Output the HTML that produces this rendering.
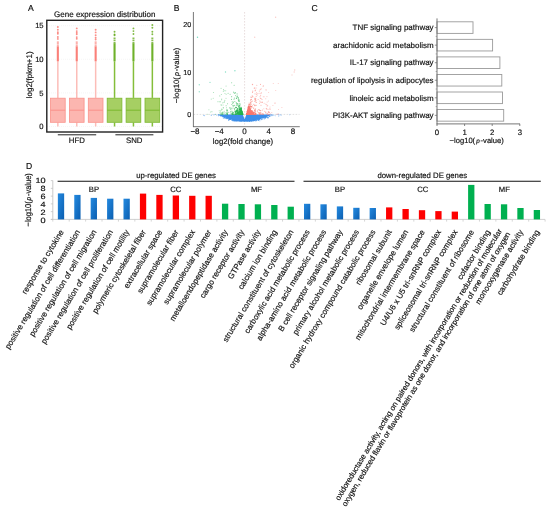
<!DOCTYPE html>
<html lang="en"><head><meta charset="utf-8"><title>Figure</title>
<style>html,body{margin:0;padding:0;background:#fff}svg{display:block}text{font-family:"Liberation Sans", Arial, sans-serif;fill:#111;stroke:#111;stroke-width:0.17px;text-rendering:geometricPrecision}</style></head><body>
<svg width="550" height="510" viewBox="0 0 550 510">
<defs>
<linearGradient id="gb" x1="0" y1="0" x2="1" y2="1"><stop offset="0" stop-color="#248ae0"/><stop offset="1" stop-color="#0b5eb0"/></linearGradient>
</defs>
<rect width="550" height="510" fill="#fff"/>
<g id="panelA">
<text x="28" y="11.2" font-size="8.6">A</text>
<text x="104.8" y="17.25" font-size="8" text-anchor="middle">Gene expression distribution</text>
<line x1="47" x2="162.5" y1="126.5" y2="126.5" stroke="#ececec" stroke-width="0.5" stroke-dasharray="1 1"/>
<text x="43.6" y="129.2" font-size="7.6" text-anchor="end">0</text>
<line x1="47" x2="162.5" y1="92.9" y2="92.9" stroke="#ececec" stroke-width="0.5" stroke-dasharray="1 1"/>
<text x="43.6" y="95.6" font-size="7.6" text-anchor="end">5</text>
<line x1="47" x2="162.5" y1="59.3" y2="59.3" stroke="#ececec" stroke-width="0.5" stroke-dasharray="1 1"/>
<text x="43.6" y="62.0" font-size="7.6" text-anchor="end">10</text>
<line x1="47" x2="162.5" y1="25.7" y2="25.7" stroke="#ececec" stroke-width="0.5" stroke-dasharray="1 1"/>
<text x="43.6" y="28.4" font-size="7.6" text-anchor="end">15</text>
<text transform="translate(32.3 74.8) rotate(-90)" font-size="8" text-anchor="middle">log2(fpkm+1)</text>
<line x1="57.85" x2="57.85" y1="61.3" y2="97.9" stroke="#fcbdb8" stroke-width="1.5"/>
<line x1="57.85" x2="57.85" y1="122.5" y2="126.5" stroke="#fcbdb8" stroke-width="1.5"/>
<rect x="50.50" y="98.2" width="14.7" height="24.1" fill="#fcb6b0" stroke="#f9928a" stroke-width="0.8"/>
<line x1="50.50" x2="65.20" y1="110.2" y2="110.2" stroke="#f9928a" stroke-width="1"/>
<line x1="57.85" x2="57.85" y1="61.3" y2="46.5" stroke="#f96a61" stroke-width="2.1" stroke-opacity="0.85"/>
<line x1="57.85" x2="57.85" y1="46.5" y2="41.2" stroke="#f96a61" stroke-width="2.0" stroke-opacity="0.7" stroke-dasharray="1.3 0.6"/>
<circle cx="57.85" cy="38.9" r="0.95" fill="#f96a61" fill-opacity="0.75"/>
<circle cx="57.85" cy="37.0" r="0.95" fill="#f96a61" fill-opacity="0.75"/>
<circle cx="57.85" cy="33.8" r="0.95" fill="#f96a61" fill-opacity="0.75"/>
<circle cx="57.85" cy="32.2" r="0.95" fill="#f96a61" fill-opacity="0.75"/>
<circle cx="57.85" cy="29.7" r="0.95" fill="#f96a61" fill-opacity="0.75"/>
<circle cx="57.85" cy="27.0" r="0.95" fill="#f96a61" fill-opacity="0.75"/>
<line x1="76.75" x2="76.75" y1="61.3" y2="97.9" stroke="#fcbdb8" stroke-width="1.5"/>
<line x1="76.75" x2="76.75" y1="122.5" y2="126.5" stroke="#fcbdb8" stroke-width="1.5"/>
<rect x="69.40" y="98.2" width="14.7" height="24.1" fill="#fcb6b0" stroke="#f9928a" stroke-width="0.8"/>
<line x1="69.40" x2="84.10" y1="110.2" y2="110.2" stroke="#f9928a" stroke-width="1"/>
<line x1="76.75" x2="76.75" y1="61.3" y2="46.5" stroke="#f96a61" stroke-width="2.1" stroke-opacity="0.85"/>
<line x1="76.75" x2="76.75" y1="46.5" y2="41.2" stroke="#f96a61" stroke-width="2.0" stroke-opacity="0.7" stroke-dasharray="1.3 0.6"/>
<circle cx="76.75" cy="38.7" r="0.95" fill="#f96a61" fill-opacity="0.75"/>
<circle cx="76.75" cy="37.1" r="0.95" fill="#f96a61" fill-opacity="0.75"/>
<circle cx="76.75" cy="34.3" r="0.95" fill="#f96a61" fill-opacity="0.75"/>
<circle cx="76.75" cy="32.8" r="0.95" fill="#f96a61" fill-opacity="0.75"/>
<circle cx="76.75" cy="31.1" r="0.95" fill="#f96a61" fill-opacity="0.75"/>
<circle cx="76.75" cy="28.4" r="0.95" fill="#f96a61" fill-opacity="0.75"/>
<line x1="95.65" x2="95.65" y1="61.3" y2="97.9" stroke="#fcbdb8" stroke-width="1.5"/>
<line x1="95.65" x2="95.65" y1="122.5" y2="126.5" stroke="#fcbdb8" stroke-width="1.5"/>
<rect x="88.30" y="98.2" width="14.7" height="24.1" fill="#fcb6b0" stroke="#f9928a" stroke-width="0.8"/>
<line x1="88.30" x2="103.00" y1="110.2" y2="110.2" stroke="#f9928a" stroke-width="1"/>
<line x1="95.65" x2="95.65" y1="61.3" y2="46.5" stroke="#f96a61" stroke-width="2.1" stroke-opacity="0.85"/>
<line x1="95.65" x2="95.65" y1="46.5" y2="41.2" stroke="#f96a61" stroke-width="2.0" stroke-opacity="0.7" stroke-dasharray="1.3 0.6"/>
<circle cx="95.65" cy="39.5" r="0.95" fill="#f96a61" fill-opacity="0.75"/>
<circle cx="95.65" cy="37.8" r="0.95" fill="#f96a61" fill-opacity="0.75"/>
<circle cx="95.65" cy="35.2" r="0.95" fill="#f96a61" fill-opacity="0.75"/>
<circle cx="95.65" cy="32.4" r="0.95" fill="#f96a61" fill-opacity="0.75"/>
<circle cx="95.65" cy="29.7" r="0.95" fill="#f96a61" fill-opacity="0.75"/>
<line x1="114.55" x2="114.55" y1="61.3" y2="97.9" stroke="#84be3a" stroke-width="1.5"/>
<line x1="114.55" x2="114.55" y1="122.5" y2="126.5" stroke="#84be3a" stroke-width="1.5"/>
<rect x="107.20" y="98.2" width="14.7" height="24.1" fill="#a6cf63" stroke="#7cb82f" stroke-width="0.8"/>
<line x1="107.20" x2="121.90" y1="110.2" y2="110.2" stroke="#7cb82f" stroke-width="1"/>
<line x1="114.55" x2="114.55" y1="61.3" y2="43.2" stroke="#55a305" stroke-width="2.1" stroke-opacity="0.85"/>
<line x1="114.55" x2="114.55" y1="43.2" y2="37.1" stroke="#55a305" stroke-width="2.0" stroke-opacity="0.7" stroke-dasharray="1.3 0.6"/>
<circle cx="114.55" cy="35.3" r="0.95" fill="#55a305" fill-opacity="0.75"/>
<circle cx="114.55" cy="34.4" r="0.95" fill="#55a305" fill-opacity="0.75"/>
<circle cx="114.55" cy="31.7" r="0.95" fill="#55a305" fill-opacity="0.75"/>
<line x1="133.45" x2="133.45" y1="61.3" y2="97.9" stroke="#84be3a" stroke-width="1.5"/>
<line x1="133.45" x2="133.45" y1="122.5" y2="126.5" stroke="#84be3a" stroke-width="1.5"/>
<rect x="126.10" y="98.2" width="14.7" height="24.1" fill="#a6cf63" stroke="#7cb82f" stroke-width="0.8"/>
<line x1="126.10" x2="140.80" y1="110.2" y2="110.2" stroke="#7cb82f" stroke-width="1"/>
<line x1="133.45" x2="133.45" y1="61.3" y2="43.2" stroke="#55a305" stroke-width="2.1" stroke-opacity="0.85"/>
<line x1="133.45" x2="133.45" y1="43.2" y2="37.1" stroke="#55a305" stroke-width="2.0" stroke-opacity="0.7" stroke-dasharray="1.3 0.6"/>
<circle cx="133.45" cy="34.0" r="0.95" fill="#55a305" fill-opacity="0.75"/>
<circle cx="133.45" cy="31.1" r="0.95" fill="#55a305" fill-opacity="0.75"/>
<circle cx="133.45" cy="28.4" r="0.95" fill="#55a305" fill-opacity="0.75"/>
<line x1="152.35" x2="152.35" y1="61.3" y2="97.9" stroke="#84be3a" stroke-width="1.5"/>
<line x1="152.35" x2="152.35" y1="122.5" y2="126.5" stroke="#84be3a" stroke-width="1.5"/>
<rect x="145.00" y="98.2" width="14.7" height="24.1" fill="#a6cf63" stroke="#7cb82f" stroke-width="0.8"/>
<line x1="145.00" x2="159.70" y1="110.2" y2="110.2" stroke="#7cb82f" stroke-width="1"/>
<line x1="152.35" x2="152.35" y1="61.3" y2="43.2" stroke="#55a305" stroke-width="2.1" stroke-opacity="0.85"/>
<line x1="152.35" x2="152.35" y1="43.2" y2="37.1" stroke="#55a305" stroke-width="2.0" stroke-opacity="0.7" stroke-dasharray="1.3 0.6"/>
<circle cx="152.35" cy="34.2" r="0.95" fill="#55a305" fill-opacity="0.75"/>
<circle cx="152.35" cy="31.7" r="0.95" fill="#55a305" fill-opacity="0.75"/>
<circle cx="152.35" cy="27.7" r="0.95" fill="#55a305" fill-opacity="0.75"/>
<circle cx="152.35" cy="25.0" r="0.95" fill="#55a305" fill-opacity="0.75"/>
<rect x="46.8" y="20.3" width="115.8" height="111.7" fill="none" stroke="#222" stroke-width="1.4"/>
<line x1="57.8" x2="96.2" y1="134.8" y2="134.8" stroke="#222" stroke-width="1"/>
<line x1="115.4" x2="153.4" y1="134.8" y2="134.8" stroke="#222" stroke-width="1"/>
<text x="76.8" y="142.6" font-size="7.8" text-anchor="middle">HFD</text>
<text x="134.2" y="142.6" font-size="7.8" text-anchor="middle">SND</text>
</g>
<g id="panelB">
<text x="173.8" y="11.2" font-size="8.6">B</text>
<line x1="193.6" x2="299.5" y1="114.4" y2="114.4" stroke="#c9c9c9" stroke-width="0.6" stroke-dasharray="1.6 1.4"/>
<line x1="244.6" x2="244.6" y1="12" y2="126.5" stroke="#d8c4c4" stroke-width="0.6" stroke-dasharray="1.6 1.4"/>
<path d="M218.59 114.40 L242.78 114.40 L244.60 119.35 L246.41 114.40 L271.82 114.40 L271.82 114.77 L270.62 115.33 L269.40 115.86 L268.19 116.36 L266.99 116.84 L265.77 117.29 L264.56 117.72 L263.36 118.12 L262.14 118.50 L260.94 118.85 L259.73 119.18 L258.51 119.48 L257.31 119.76 L256.09 120.01 L254.88 120.24 L253.68 120.44 L252.47 120.62 L251.25 120.77 L250.04 120.89 L248.84 121.00 L247.62 121.07 L246.41 121.12 L245.20 121.15 L244.00 121.15 L242.78 121.12 L241.57 121.06 L240.37 120.98 L239.16 120.87 L237.94 120.73 L236.73 120.57 L235.53 120.37 L234.31 120.15 L233.10 119.91 L231.89 119.63 L230.69 119.33 L229.47 118.99 L228.26 118.64 L227.06 118.25 L225.84 117.84 L224.63 117.39 L223.42 116.93 L222.22 116.43 L221.00 115.91 L219.79 115.35 L218.59 114.77 Z" fill="#3c8eea"/>
<circle cx="278.97" cy="115.07" r="0.55" fill="#3c8eea" fill-opacity="0.40"/>
<circle cx="242.10" cy="120.70" r="0.55" fill="#3c8eea" fill-opacity="0.70"/>
<circle cx="256.11" cy="120.11" r="0.55" fill="#3c8eea" fill-opacity="0.70"/>
<circle cx="249.23" cy="120.70" r="0.55" fill="#3c8eea" fill-opacity="0.70"/>
<circle cx="222.02" cy="116.54" r="0.55" fill="#3c8eea" fill-opacity="0.70"/>
<circle cx="228.70" cy="119.12" r="0.55" fill="#3c8eea" fill-opacity="0.70"/>
<circle cx="250.47" cy="120.61" r="0.55" fill="#3c8eea" fill-opacity="0.70"/>
<circle cx="252.09" cy="120.70" r="0.55" fill="#3c8eea" fill-opacity="0.70"/>
<circle cx="230.44" cy="119.21" r="0.55" fill="#3c8eea" fill-opacity="0.70"/>
<circle cx="227.47" cy="118.47" r="0.55" fill="#3c8eea" fill-opacity="0.70"/>
<circle cx="234.67" cy="120.70" r="0.55" fill="#3c8eea" fill-opacity="0.70"/>
<circle cx="240.32" cy="120.70" r="0.55" fill="#3c8eea" fill-opacity="0.70"/>
<circle cx="224.83" cy="117.54" r="0.55" fill="#3c8eea" fill-opacity="0.70"/>
<circle cx="265.37" cy="117.97" r="0.55" fill="#3c8eea" fill-opacity="0.70"/>
<circle cx="232.60" cy="120.70" r="0.55" fill="#3c8eea" fill-opacity="0.70"/>
<circle cx="258.52" cy="119.68" r="0.55" fill="#3c8eea" fill-opacity="0.70"/>
<circle cx="245.07" cy="120.70" r="0.55" fill="#3c8eea" fill-opacity="0.70"/>
<circle cx="239.48" cy="120.57" r="0.55" fill="#3c8eea" fill-opacity="0.70"/>
<circle cx="229.43" cy="119.78" r="0.55" fill="#3c8eea" fill-opacity="0.70"/>
<circle cx="211.38" cy="115.39" r="0.55" fill="#3c8eea" fill-opacity="0.40"/>
<circle cx="233.69" cy="120.78" r="0.55" fill="#3c8eea" fill-opacity="0.70"/>
<circle cx="224.78" cy="117.67" r="0.55" fill="#3c8eea" fill-opacity="0.70"/>
<circle cx="211.16" cy="115.02" r="0.55" fill="#3c8eea" fill-opacity="0.40"/>
<circle cx="263.95" cy="117.88" r="0.55" fill="#3c8eea" fill-opacity="0.70"/>
<circle cx="241.30" cy="120.70" r="0.55" fill="#3c8eea" fill-opacity="0.70"/>
<circle cx="236.74" cy="120.70" r="0.55" fill="#3c8eea" fill-opacity="0.70"/>
<circle cx="278.29" cy="114.60" r="0.55" fill="#3c8eea" fill-opacity="0.40"/>
<circle cx="240.74" cy="120.70" r="0.55" fill="#3c8eea" fill-opacity="0.70"/>
<circle cx="242.70" cy="120.70" r="0.55" fill="#3c8eea" fill-opacity="0.70"/>
<circle cx="233.91" cy="119.83" r="0.55" fill="#3c8eea" fill-opacity="0.70"/>
<circle cx="249.29" cy="120.79" r="0.55" fill="#3c8eea" fill-opacity="0.70"/>
<circle cx="245.69" cy="120.70" r="0.55" fill="#3c8eea" fill-opacity="0.70"/>
<circle cx="244.87" cy="120.70" r="0.55" fill="#3c8eea" fill-opacity="0.70"/>
<circle cx="249.74" cy="120.70" r="0.55" fill="#3c8eea" fill-opacity="0.70"/>
<circle cx="222.84" cy="116.65" r="0.55" fill="#3c8eea" fill-opacity="0.70"/>
<circle cx="269.56" cy="116.40" r="0.55" fill="#3c8eea" fill-opacity="0.70"/>
<circle cx="254.23" cy="120.47" r="0.55" fill="#3c8eea" fill-opacity="0.70"/>
<circle cx="229.86" cy="119.12" r="0.55" fill="#3c8eea" fill-opacity="0.70"/>
<circle cx="278.69" cy="116.14" r="0.55" fill="#3c8eea" fill-opacity="0.40"/>
<circle cx="251.19" cy="120.70" r="0.55" fill="#3c8eea" fill-opacity="0.70"/>
<circle cx="246.10" cy="120.70" r="0.55" fill="#3c8eea" fill-opacity="0.70"/>
<circle cx="220.50" cy="115.43" r="0.55" fill="#3c8eea" fill-opacity="0.70"/>
<circle cx="244.47" cy="120.70" r="0.55" fill="#3c8eea" fill-opacity="0.70"/>
<circle cx="229.39" cy="118.98" r="0.55" fill="#3c8eea" fill-opacity="0.70"/>
<circle cx="203.55" cy="115.49" r="0.55" fill="#3c8eea" fill-opacity="0.40"/>
<circle cx="236.62" cy="120.70" r="0.55" fill="#3c8eea" fill-opacity="0.70"/>
<circle cx="224.45" cy="117.76" r="0.55" fill="#3c8eea" fill-opacity="0.70"/>
<circle cx="281.29" cy="115.21" r="0.55" fill="#3c8eea" fill-opacity="0.40"/>
<circle cx="251.52" cy="120.70" r="0.55" fill="#3c8eea" fill-opacity="0.70"/>
<circle cx="249.97" cy="120.70" r="0.55" fill="#3c8eea" fill-opacity="0.70"/>
<circle cx="237.77" cy="120.57" r="0.55" fill="#3c8eea" fill-opacity="0.70"/>
<circle cx="240.27" cy="120.70" r="0.55" fill="#3c8eea" fill-opacity="0.70"/>
<circle cx="255.93" cy="119.91" r="0.55" fill="#3c8eea" fill-opacity="0.70"/>
<circle cx="253.26" cy="120.75" r="0.55" fill="#3c8eea" fill-opacity="0.70"/>
<circle cx="244.97" cy="120.70" r="0.55" fill="#3c8eea" fill-opacity="0.70"/>
<circle cx="249.48" cy="120.70" r="0.55" fill="#3c8eea" fill-opacity="0.70"/>
<circle cx="241.90" cy="120.70" r="0.55" fill="#3c8eea" fill-opacity="0.70"/>
<circle cx="262.24" cy="118.88" r="0.55" fill="#3c8eea" fill-opacity="0.70"/>
<circle cx="252.84" cy="120.69" r="0.55" fill="#3c8eea" fill-opacity="0.70"/>
<circle cx="234.68" cy="120.47" r="0.55" fill="#3c8eea" fill-opacity="0.70"/>
<circle cx="269.89" cy="116.35" r="0.55" fill="#3c8eea" fill-opacity="0.70"/>
<circle cx="264.91" cy="117.29" r="0.55" fill="#3c8eea" fill-opacity="0.70"/>
<circle cx="236.95" cy="120.28" r="0.55" fill="#3c8eea" fill-opacity="0.70"/>
<circle cx="257.91" cy="119.70" r="0.55" fill="#3c8eea" fill-opacity="0.70"/>
<circle cx="241.44" cy="120.70" r="0.55" fill="#3c8eea" fill-opacity="0.70"/>
<circle cx="246.67" cy="120.70" r="0.55" fill="#3c8eea" fill-opacity="0.70"/>
<circle cx="265.80" cy="117.22" r="0.55" fill="#3c8eea" fill-opacity="0.70"/>
<circle cx="258.34" cy="119.95" r="0.55" fill="#3c8eea" fill-opacity="0.70"/>
<circle cx="266.52" cy="116.83" r="0.55" fill="#3c8eea" fill-opacity="0.70"/>
<circle cx="280.48" cy="114.78" r="0.55" fill="#3c8eea" fill-opacity="0.40"/>
<circle cx="239.92" cy="120.70" r="0.55" fill="#3c8eea" fill-opacity="0.70"/>
<circle cx="237.26" cy="120.64" r="0.55" fill="#3c8eea" fill-opacity="0.70"/>
<circle cx="247.68" cy="120.70" r="0.55" fill="#3c8eea" fill-opacity="0.70"/>
<circle cx="247.55" cy="120.70" r="0.55" fill="#3c8eea" fill-opacity="0.70"/>
<circle cx="250.19" cy="120.70" r="0.55" fill="#3c8eea" fill-opacity="0.70"/>
<circle cx="279.96" cy="114.70" r="0.55" fill="#3c8eea" fill-opacity="0.40"/>
<circle cx="256.17" cy="120.70" r="0.55" fill="#3c8eea" fill-opacity="0.70"/>
<circle cx="243.77" cy="120.70" r="0.55" fill="#3c8eea" fill-opacity="0.70"/>
<circle cx="227.69" cy="118.19" r="0.55" fill="#3c8eea" fill-opacity="0.70"/>
<circle cx="248.85" cy="120.68" r="0.55" fill="#3c8eea" fill-opacity="0.70"/>
<circle cx="242.02" cy="120.70" r="0.55" fill="#3c8eea" fill-opacity="0.70"/>
<circle cx="228.54" cy="120.18" r="0.55" fill="#3c8eea" fill-opacity="0.70"/>
<circle cx="204.24" cy="115.26" r="0.55" fill="#3c8eea" fill-opacity="0.40"/>
<circle cx="289.67" cy="114.70" r="0.55" fill="#3c8eea" fill-opacity="0.40"/>
<circle cx="236.15" cy="120.54" r="0.55" fill="#3c8eea" fill-opacity="0.70"/>
<circle cx="246.34" cy="120.70" r="0.55" fill="#3c8eea" fill-opacity="0.70"/>
<circle cx="251.78" cy="120.70" r="0.55" fill="#3c8eea" fill-opacity="0.70"/>
<circle cx="272.77" cy="115.61" r="0.55" fill="#3c8eea" fill-opacity="0.40"/>
<circle cx="218.41" cy="114.70" r="0.55" fill="#3c8eea" fill-opacity="0.70"/>
<circle cx="246.94" cy="120.70" r="0.55" fill="#3c8eea" fill-opacity="0.70"/>
<circle cx="223.39" cy="118.00" r="0.55" fill="#3c8eea" fill-opacity="0.70"/>
<circle cx="250.69" cy="120.70" r="0.55" fill="#3c8eea" fill-opacity="0.70"/>
<circle cx="233.33" cy="119.67" r="0.55" fill="#3c8eea" fill-opacity="0.70"/>
<circle cx="248.57" cy="120.70" r="0.55" fill="#3c8eea" fill-opacity="0.70"/>
<circle cx="259.81" cy="120.77" r="0.55" fill="#3c8eea" fill-opacity="0.70"/>
<circle cx="230.01" cy="119.27" r="0.55" fill="#3c8eea" fill-opacity="0.70"/>
<circle cx="272.14" cy="115.03" r="0.55" fill="#3c8eea" fill-opacity="0.70"/>
<circle cx="249.16" cy="120.70" r="0.55" fill="#3c8eea" fill-opacity="0.70"/>
<circle cx="267.51" cy="117.65" r="0.55" fill="#3c8eea" fill-opacity="0.70"/>
<circle cx="248.15" cy="120.70" r="0.55" fill="#3c8eea" fill-opacity="0.70"/>
<circle cx="268.12" cy="117.96" r="0.55" fill="#3c8eea" fill-opacity="0.70"/>
<circle cx="235.32" cy="120.59" r="0.55" fill="#3c8eea" fill-opacity="0.70"/>
<circle cx="235.43" cy="120.13" r="0.55" fill="#3c8eea" fill-opacity="0.70"/>
<circle cx="248.91" cy="120.70" r="0.55" fill="#3c8eea" fill-opacity="0.70"/>
<circle cx="226.67" cy="118.52" r="0.55" fill="#3c8eea" fill-opacity="0.70"/>
<circle cx="236.76" cy="120.70" r="0.55" fill="#3c8eea" fill-opacity="0.70"/>
<circle cx="220.11" cy="115.29" r="0.55" fill="#3c8eea" fill-opacity="0.70"/>
<circle cx="258.01" cy="119.41" r="0.55" fill="#3c8eea" fill-opacity="0.70"/>
<circle cx="257.58" cy="119.86" r="0.55" fill="#3c8eea" fill-opacity="0.70"/>
<circle cx="237.33" cy="120.66" r="0.55" fill="#3c8eea" fill-opacity="0.70"/>
<circle cx="249.29" cy="120.70" r="0.55" fill="#3c8eea" fill-opacity="0.70"/>
<circle cx="235.51" cy="120.70" r="0.55" fill="#3c8eea" fill-opacity="0.70"/>
<circle cx="250.84" cy="120.70" r="0.55" fill="#3c8eea" fill-opacity="0.70"/>
<circle cx="233.87" cy="120.51" r="0.55" fill="#3c8eea" fill-opacity="0.70"/>
<circle cx="234.01" cy="120.67" r="0.55" fill="#3c8eea" fill-opacity="0.70"/>
<circle cx="240.21" cy="120.70" r="0.55" fill="#3c8eea" fill-opacity="0.70"/>
<circle cx="246.89" cy="120.78" r="0.55" fill="#3c8eea" fill-opacity="0.70"/>
<circle cx="246.07" cy="120.70" r="0.55" fill="#3c8eea" fill-opacity="0.70"/>
<circle cx="233.96" cy="120.70" r="0.55" fill="#3c8eea" fill-opacity="0.70"/>
<circle cx="249.44" cy="120.70" r="0.55" fill="#3c8eea" fill-opacity="0.70"/>
<circle cx="239.00" cy="120.70" r="0.55" fill="#3c8eea" fill-opacity="0.70"/>
<circle cx="241.94" cy="120.70" r="0.55" fill="#3c8eea" fill-opacity="0.70"/>
<circle cx="236.20" cy="120.68" r="0.55" fill="#3c8eea" fill-opacity="0.70"/>
<circle cx="239.53" cy="120.78" r="0.55" fill="#3c8eea" fill-opacity="0.70"/>
<circle cx="275.38" cy="115.76" r="0.55" fill="#3c8eea" fill-opacity="0.40"/>
<circle cx="243.47" cy="120.70" r="0.55" fill="#3c8eea" fill-opacity="0.70"/>
<circle cx="204.62" cy="115.77" r="0.55" fill="#3c8eea" fill-opacity="0.40"/>
<circle cx="253.32" cy="120.70" r="0.55" fill="#3c8eea" fill-opacity="0.70"/>
<circle cx="243.84" cy="120.70" r="0.55" fill="#3c8eea" fill-opacity="0.70"/>
<circle cx="225.96" cy="118.39" r="0.55" fill="#3c8eea" fill-opacity="0.70"/>
<circle cx="240.30" cy="120.70" r="0.55" fill="#3c8eea" fill-opacity="0.70"/>
<circle cx="234.49" cy="120.70" r="0.55" fill="#3c8eea" fill-opacity="0.70"/>
<circle cx="214.25" cy="114.60" r="0.55" fill="#3c8eea" fill-opacity="0.40"/>
<circle cx="267.80" cy="117.56" r="0.55" fill="#3c8eea" fill-opacity="0.70"/>
<circle cx="232.47" cy="119.67" r="0.55" fill="#3c8eea" fill-opacity="0.70"/>
<circle cx="251.61" cy="120.66" r="0.55" fill="#3c8eea" fill-opacity="0.70"/>
<circle cx="247.11" cy="120.76" r="0.55" fill="#3c8eea" fill-opacity="0.70"/>
<circle cx="251.66" cy="120.70" r="0.55" fill="#3c8eea" fill-opacity="0.70"/>
<circle cx="216.81" cy="114.97" r="0.55" fill="#3c8eea" fill-opacity="0.70"/>
<circle cx="238.26" cy="120.66" r="0.55" fill="#3c8eea" fill-opacity="0.70"/>
<circle cx="218.53" cy="115.77" r="0.55" fill="#3c8eea" fill-opacity="0.70"/>
<circle cx="274.00" cy="115.19" r="0.55" fill="#3c8eea" fill-opacity="0.40"/>
<circle cx="242.01" cy="120.70" r="0.55" fill="#3c8eea" fill-opacity="0.70"/>
<circle cx="239.22" cy="120.70" r="0.55" fill="#3c8eea" fill-opacity="0.70"/>
<circle cx="249.00" cy="120.70" r="0.55" fill="#3c8eea" fill-opacity="0.70"/>
<circle cx="235.24" cy="120.70" r="0.55" fill="#3c8eea" fill-opacity="0.70"/>
<circle cx="253.72" cy="120.36" r="0.55" fill="#3c8eea" fill-opacity="0.70"/>
<circle cx="254.75" cy="120.43" r="0.55" fill="#3c8eea" fill-opacity="0.70"/>
<circle cx="271.00" cy="115.78" r="0.55" fill="#3c8eea" fill-opacity="0.70"/>
<circle cx="247.42" cy="120.70" r="0.55" fill="#3c8eea" fill-opacity="0.70"/>
<circle cx="245.87" cy="120.70" r="0.55" fill="#3c8eea" fill-opacity="0.70"/>
<circle cx="266.73" cy="116.87" r="0.55" fill="#3c8eea" fill-opacity="0.70"/>
<circle cx="244.09" cy="120.70" r="0.55" fill="#3c8eea" fill-opacity="0.70"/>
<circle cx="241.61" cy="120.70" r="0.55" fill="#3c8eea" fill-opacity="0.70"/>
<circle cx="243.09" cy="120.80" r="0.55" fill="#3c8eea" fill-opacity="0.70"/>
<circle cx="249.73" cy="120.68" r="0.55" fill="#3c8eea" fill-opacity="0.70"/>
<circle cx="230.43" cy="119.46" r="0.55" fill="#3c8eea" fill-opacity="0.70"/>
<circle cx="258.42" cy="120.37" r="0.55" fill="#3c8eea" fill-opacity="0.70"/>
<circle cx="226.87" cy="117.86" r="0.55" fill="#3c8eea" fill-opacity="0.70"/>
<circle cx="254.91" cy="120.76" r="0.55" fill="#3c8eea" fill-opacity="0.70"/>
<circle cx="233.12" cy="119.66" r="0.55" fill="#3c8eea" fill-opacity="0.70"/>
<circle cx="237.12" cy="120.70" r="0.55" fill="#3c8eea" fill-opacity="0.70"/>
<circle cx="254.40" cy="120.24" r="0.55" fill="#3c8eea" fill-opacity="0.70"/>
<circle cx="247.78" cy="120.70" r="0.55" fill="#3c8eea" fill-opacity="0.70"/>
<circle cx="234.87" cy="120.01" r="0.55" fill="#3c8eea" fill-opacity="0.70"/>
<circle cx="237.41" cy="120.49" r="0.55" fill="#3c8eea" fill-opacity="0.70"/>
<circle cx="239.31" cy="120.70" r="0.55" fill="#3c8eea" fill-opacity="0.70"/>
<circle cx="229.44" cy="119.16" r="0.55" fill="#3c8eea" fill-opacity="0.70"/>
<circle cx="264.11" cy="118.07" r="0.55" fill="#3c8eea" fill-opacity="0.70"/>
<circle cx="238.23" cy="120.70" r="0.55" fill="#3c8eea" fill-opacity="0.70"/>
<circle cx="260.71" cy="118.59" r="0.55" fill="#3c8eea" fill-opacity="0.70"/>
<circle cx="253.32" cy="120.28" r="0.55" fill="#3c8eea" fill-opacity="0.70"/>
<circle cx="249.56" cy="120.79" r="0.55" fill="#3c8eea" fill-opacity="0.70"/>
<circle cx="259.58" cy="119.31" r="0.55" fill="#3c8eea" fill-opacity="0.70"/>
<circle cx="273.43" cy="114.80" r="0.55" fill="#3c8eea" fill-opacity="0.40"/>
<circle cx="265.30" cy="117.43" r="0.55" fill="#3c8eea" fill-opacity="0.70"/>
<circle cx="259.67" cy="119.43" r="0.55" fill="#3c8eea" fill-opacity="0.70"/>
<circle cx="246.17" cy="120.70" r="0.55" fill="#3c8eea" fill-opacity="0.70"/>
<circle cx="247.44" cy="120.70" r="0.55" fill="#3c8eea" fill-opacity="0.70"/>
<circle cx="240.89" cy="120.70" r="0.55" fill="#3c8eea" fill-opacity="0.70"/>
<circle cx="251.29" cy="120.70" r="0.55" fill="#3c8eea" fill-opacity="0.70"/>
<circle cx="265.38" cy="117.91" r="0.55" fill="#3c8eea" fill-opacity="0.70"/>
<circle cx="253.37" cy="120.53" r="0.55" fill="#3c8eea" fill-opacity="0.70"/>
<circle cx="228.97" cy="119.68" r="0.55" fill="#3c8eea" fill-opacity="0.70"/>
<circle cx="243.44" cy="120.70" r="0.55" fill="#3c8eea" fill-opacity="0.70"/>
<circle cx="242.77" cy="120.70" r="0.55" fill="#3c8eea" fill-opacity="0.70"/>
<circle cx="219.89" cy="115.56" r="0.55" fill="#3c8eea" fill-opacity="0.70"/>
<circle cx="230.66" cy="119.12" r="0.55" fill="#3c8eea" fill-opacity="0.70"/>
<circle cx="249.57" cy="120.79" r="0.55" fill="#3c8eea" fill-opacity="0.70"/>
<circle cx="249.66" cy="120.61" r="0.55" fill="#3c8eea" fill-opacity="0.70"/>
<circle cx="230.68" cy="119.14" r="0.55" fill="#3c8eea" fill-opacity="0.70"/>
<circle cx="251.12" cy="120.70" r="0.55" fill="#3c8eea" fill-opacity="0.70"/>
<circle cx="213.77" cy="114.90" r="0.55" fill="#3c8eea" fill-opacity="0.40"/>
<circle cx="231.63" cy="119.25" r="0.55" fill="#3c8eea" fill-opacity="0.70"/>
<circle cx="259.70" cy="119.28" r="0.55" fill="#3c8eea" fill-opacity="0.70"/>
<circle cx="247.28" cy="120.70" r="0.55" fill="#3c8eea" fill-opacity="0.70"/>
<circle cx="249.34" cy="120.70" r="0.55" fill="#3c8eea" fill-opacity="0.70"/>
<circle cx="233.02" cy="120.09" r="0.55" fill="#3c8eea" fill-opacity="0.70"/>
<circle cx="240.64" cy="120.70" r="0.55" fill="#3c8eea" fill-opacity="0.70"/>
<circle cx="241.26" cy="120.72" r="0.55" fill="#3c8eea" fill-opacity="0.70"/>
<circle cx="245.26" cy="120.70" r="0.55" fill="#3c8eea" fill-opacity="0.70"/>
<circle cx="258.54" cy="119.65" r="0.55" fill="#3c8eea" fill-opacity="0.70"/>
<circle cx="244.39" cy="120.70" r="0.55" fill="#3c8eea" fill-opacity="0.70"/>
<circle cx="244.55" cy="120.70" r="0.55" fill="#3c8eea" fill-opacity="0.70"/>
<circle cx="252.44" cy="120.45" r="0.55" fill="#3c8eea" fill-opacity="0.70"/>
<circle cx="247.73" cy="120.70" r="0.55" fill="#3c8eea" fill-opacity="0.70"/>
<circle cx="246.78" cy="120.70" r="0.55" fill="#3c8eea" fill-opacity="0.70"/>
<circle cx="268.55" cy="117.13" r="0.55" fill="#3c8eea" fill-opacity="0.70"/>
<circle cx="239.08" cy="120.70" r="0.55" fill="#3c8eea" fill-opacity="0.70"/>
<circle cx="220.53" cy="115.90" r="0.55" fill="#3c8eea" fill-opacity="0.70"/>
<circle cx="232.18" cy="120.38" r="0.55" fill="#3c8eea" fill-opacity="0.70"/>
<circle cx="261.80" cy="119.26" r="0.55" fill="#3c8eea" fill-opacity="0.70"/>
<circle cx="241.22" cy="120.70" r="0.55" fill="#3c8eea" fill-opacity="0.70"/>
<circle cx="264.15" cy="118.91" r="0.55" fill="#3c8eea" fill-opacity="0.70"/>
<circle cx="224.03" cy="117.71" r="0.55" fill="#3c8eea" fill-opacity="0.70"/>
<circle cx="248.39" cy="120.70" r="0.55" fill="#3c8eea" fill-opacity="0.70"/>
<circle cx="223.33" cy="116.68" r="0.55" fill="#3c8eea" fill-opacity="0.70"/>
<circle cx="261.29" cy="119.61" r="0.55" fill="#3c8eea" fill-opacity="0.70"/>
<circle cx="255.70" cy="120.65" r="0.55" fill="#3c8eea" fill-opacity="0.70"/>
<circle cx="266.10" cy="117.55" r="0.55" fill="#3c8eea" fill-opacity="0.70"/>
<circle cx="240.03" cy="120.70" r="0.55" fill="#3c8eea" fill-opacity="0.70"/>
<circle cx="254.12" cy="120.10" r="0.55" fill="#3c8eea" fill-opacity="0.70"/>
<circle cx="239.12" cy="120.80" r="0.55" fill="#3c8eea" fill-opacity="0.70"/>
<circle cx="256.52" cy="120.43" r="0.55" fill="#3c8eea" fill-opacity="0.70"/>
<circle cx="226.91" cy="118.63" r="0.55" fill="#3c8eea" fill-opacity="0.70"/>
<circle cx="235.72" cy="120.70" r="0.55" fill="#3c8eea" fill-opacity="0.70"/>
<circle cx="277.04" cy="114.56" r="0.55" fill="#3c8eea" fill-opacity="0.40"/>
<circle cx="244.37" cy="120.70" r="0.55" fill="#3c8eea" fill-opacity="0.70"/>
<circle cx="218.61" cy="114.69" r="0.55" fill="#3c8eea" fill-opacity="0.70"/>
<circle cx="271.74" cy="114.97" r="0.55" fill="#3c8eea" fill-opacity="0.70"/>
<circle cx="244.50" cy="120.70" r="0.55" fill="#3c8eea" fill-opacity="0.70"/>
<circle cx="241.74" cy="120.70" r="0.55" fill="#3c8eea" fill-opacity="0.70"/>
<circle cx="252.87" cy="120.70" r="0.55" fill="#3c8eea" fill-opacity="0.70"/>
<circle cx="265.54" cy="117.17" r="0.55" fill="#3c8eea" fill-opacity="0.70"/>
<circle cx="229.26" cy="119.18" r="0.55" fill="#3c8eea" fill-opacity="0.70"/>
<circle cx="232.06" cy="120.53" r="0.55" fill="#3c8eea" fill-opacity="0.70"/>
<circle cx="225.28" cy="118.03" r="0.55" fill="#3c8eea" fill-opacity="0.70"/>
<circle cx="253.66" cy="120.30" r="0.55" fill="#3c8eea" fill-opacity="0.70"/>
<circle cx="242.61" cy="114.38" r="0.55" fill="#22b14c" fill-opacity="0.80"/>
<circle cx="238.66" cy="106.58" r="0.55" fill="#22b14c" fill-opacity="0.80"/>
<circle cx="226.45" cy="107.68" r="0.55" fill="#22b14c" fill-opacity="0.40"/>
<circle cx="240.41" cy="113.97" r="0.55" fill="#22b14c" fill-opacity="0.80"/>
<circle cx="208.90" cy="109.78" r="0.55" fill="#22b14c" fill-opacity="0.40"/>
<circle cx="219.90" cy="112.43" r="0.55" fill="#22b14c" fill-opacity="0.40"/>
<circle cx="242.27" cy="114.25" r="0.55" fill="#22b14c" fill-opacity="0.80"/>
<circle cx="238.40" cy="97.75" r="0.55" fill="#22b14c" fill-opacity="0.55"/>
<circle cx="240.32" cy="109.10" r="0.55" fill="#22b14c" fill-opacity="0.80"/>
<circle cx="237.57" cy="109.26" r="0.55" fill="#22b14c" fill-opacity="0.80"/>
<circle cx="237.16" cy="112.25" r="0.55" fill="#22b14c" fill-opacity="0.80"/>
<circle cx="242.66" cy="114.24" r="0.55" fill="#22b14c" fill-opacity="0.80"/>
<circle cx="241.54" cy="110.29" r="0.55" fill="#22b14c" fill-opacity="0.80"/>
<circle cx="235.94" cy="112.01" r="0.55" fill="#22b14c" fill-opacity="0.80"/>
<circle cx="239.37" cy="99.97" r="0.55" fill="#22b14c" fill-opacity="0.55"/>
<circle cx="233.50" cy="112.35" r="0.55" fill="#22b14c" fill-opacity="0.55"/>
<circle cx="235.41" cy="92.46" r="0.55" fill="#22b14c" fill-opacity="0.55"/>
<circle cx="237.31" cy="108.45" r="0.55" fill="#22b14c" fill-opacity="0.80"/>
<circle cx="234.32" cy="93.10" r="0.55" fill="#22b14c" fill-opacity="0.55"/>
<circle cx="221.13" cy="104.44" r="0.55" fill="#22b14c" fill-opacity="0.40"/>
<circle cx="240.47" cy="112.33" r="0.55" fill="#22b14c" fill-opacity="0.80"/>
<circle cx="227.15" cy="114.32" r="0.55" fill="#22b14c" fill-opacity="0.55"/>
<circle cx="231.90" cy="111.15" r="0.55" fill="#22b14c" fill-opacity="0.55"/>
<circle cx="234.14" cy="85.29" r="0.55" fill="#22b14c" fill-opacity="0.55"/>
<circle cx="240.50" cy="112.83" r="0.55" fill="#22b14c" fill-opacity="0.80"/>
<circle cx="239.38" cy="113.75" r="0.55" fill="#22b14c" fill-opacity="0.80"/>
<circle cx="221.39" cy="94.46" r="0.55" fill="#22b14c" fill-opacity="0.40"/>
<circle cx="222.73" cy="113.51" r="0.55" fill="#22b14c" fill-opacity="0.40"/>
<circle cx="241.63" cy="114.01" r="0.55" fill="#22b14c" fill-opacity="0.80"/>
<circle cx="221.71" cy="109.16" r="0.55" fill="#22b14c" fill-opacity="0.40"/>
<circle cx="241.01" cy="113.25" r="0.55" fill="#22b14c" fill-opacity="0.80"/>
<circle cx="239.18" cy="114.13" r="0.55" fill="#22b14c" fill-opacity="0.80"/>
<circle cx="227.48" cy="112.88" r="0.55" fill="#22b14c" fill-opacity="0.55"/>
<circle cx="241.30" cy="113.30" r="0.55" fill="#22b14c" fill-opacity="0.80"/>
<circle cx="233.77" cy="114.36" r="0.55" fill="#22b14c" fill-opacity="0.80"/>
<circle cx="240.10" cy="105.12" r="0.55" fill="#22b14c" fill-opacity="0.55"/>
<circle cx="242.71" cy="113.40" r="0.55" fill="#22b14c" fill-opacity="0.80"/>
<circle cx="222.43" cy="112.32" r="0.55" fill="#22b14c" fill-opacity="0.40"/>
<circle cx="242.74" cy="114.10" r="0.55" fill="#22b14c" fill-opacity="0.80"/>
<circle cx="220.50" cy="101.68" r="0.55" fill="#22b14c" fill-opacity="0.40"/>
<circle cx="231.34" cy="114.33" r="0.55" fill="#22b14c" fill-opacity="0.55"/>
<circle cx="236.37" cy="103.36" r="0.55" fill="#22b14c" fill-opacity="0.55"/>
<circle cx="240.23" cy="108.99" r="0.55" fill="#22b14c" fill-opacity="0.80"/>
<circle cx="240.13" cy="111.24" r="0.55" fill="#22b14c" fill-opacity="0.80"/>
<circle cx="232.89" cy="105.60" r="0.55" fill="#22b14c" fill-opacity="0.55"/>
<circle cx="241.07" cy="111.20" r="0.55" fill="#22b14c" fill-opacity="0.80"/>
<circle cx="222.01" cy="112.89" r="0.55" fill="#22b14c" fill-opacity="0.40"/>
<circle cx="215.49" cy="114.36" r="0.55" fill="#22b14c" fill-opacity="0.40"/>
<circle cx="237.69" cy="110.64" r="0.55" fill="#22b14c" fill-opacity="0.80"/>
<circle cx="237.32" cy="114.35" r="0.55" fill="#22b14c" fill-opacity="0.80"/>
<circle cx="233.22" cy="101.95" r="0.55" fill="#22b14c" fill-opacity="0.55"/>
<circle cx="240.47" cy="113.95" r="0.55" fill="#22b14c" fill-opacity="0.80"/>
<circle cx="226.66" cy="112.70" r="0.55" fill="#22b14c" fill-opacity="0.55"/>
<circle cx="235.19" cy="111.70" r="0.55" fill="#22b14c" fill-opacity="0.80"/>
<circle cx="221.43" cy="113.19" r="0.55" fill="#22b14c" fill-opacity="0.40"/>
<circle cx="236.80" cy="110.76" r="0.55" fill="#22b14c" fill-opacity="0.80"/>
<circle cx="232.62" cy="113.70" r="0.55" fill="#22b14c" fill-opacity="0.55"/>
<circle cx="238.29" cy="99.72" r="0.55" fill="#22b14c" fill-opacity="0.55"/>
<circle cx="219.25" cy="110.82" r="0.55" fill="#22b14c" fill-opacity="0.40"/>
<circle cx="241.00" cy="109.95" r="0.55" fill="#22b14c" fill-opacity="0.80"/>
<circle cx="240.37" cy="113.22" r="0.55" fill="#22b14c" fill-opacity="0.80"/>
<circle cx="238.73" cy="113.04" r="0.55" fill="#22b14c" fill-opacity="0.80"/>
<circle cx="240.39" cy="113.93" r="0.55" fill="#22b14c" fill-opacity="0.80"/>
<circle cx="242.10" cy="111.97" r="0.55" fill="#22b14c" fill-opacity="0.80"/>
<circle cx="237.56" cy="96.06" r="0.55" fill="#22b14c" fill-opacity="0.55"/>
<circle cx="241.12" cy="108.35" r="0.55" fill="#22b14c" fill-opacity="0.80"/>
<circle cx="235.29" cy="114.33" r="0.55" fill="#22b14c" fill-opacity="0.80"/>
<circle cx="238.08" cy="97.79" r="0.55" fill="#22b14c" fill-opacity="0.55"/>
<circle cx="242.61" cy="114.26" r="0.55" fill="#22b14c" fill-opacity="0.80"/>
<circle cx="217.98" cy="101.66" r="0.55" fill="#22b14c" fill-opacity="0.40"/>
<circle cx="232.43" cy="114.38" r="0.55" fill="#22b14c" fill-opacity="0.55"/>
<circle cx="221.06" cy="88.36" r="0.55" fill="#22b14c" fill-opacity="0.40"/>
<circle cx="242.23" cy="111.61" r="0.55" fill="#22b14c" fill-opacity="0.80"/>
<circle cx="237.32" cy="110.19" r="0.55" fill="#22b14c" fill-opacity="0.80"/>
<circle cx="240.02" cy="107.90" r="0.55" fill="#22b14c" fill-opacity="0.80"/>
<circle cx="224.28" cy="111.27" r="0.55" fill="#22b14c" fill-opacity="0.40"/>
<circle cx="241.44" cy="110.59" r="0.55" fill="#22b14c" fill-opacity="0.80"/>
<circle cx="240.15" cy="114.33" r="0.55" fill="#22b14c" fill-opacity="0.80"/>
<circle cx="235.13" cy="111.38" r="0.55" fill="#22b14c" fill-opacity="0.80"/>
<circle cx="210.40" cy="112.02" r="0.55" fill="#22b14c" fill-opacity="0.40"/>
<circle cx="238.11" cy="110.48" r="0.55" fill="#22b14c" fill-opacity="0.80"/>
<circle cx="239.55" cy="109.09" r="0.55" fill="#22b14c" fill-opacity="0.80"/>
<circle cx="224.83" cy="100.33" r="0.55" fill="#22b14c" fill-opacity="0.40"/>
<circle cx="240.60" cy="113.05" r="0.55" fill="#22b14c" fill-opacity="0.80"/>
<circle cx="237.12" cy="112.96" r="0.55" fill="#22b14c" fill-opacity="0.80"/>
<circle cx="239.39" cy="109.57" r="0.55" fill="#22b14c" fill-opacity="0.80"/>
<circle cx="230.77" cy="112.89" r="0.55" fill="#22b14c" fill-opacity="0.55"/>
<circle cx="226.95" cy="114.02" r="0.55" fill="#22b14c" fill-opacity="0.55"/>
<circle cx="233.59" cy="92.13" r="0.55" fill="#22b14c" fill-opacity="0.55"/>
<circle cx="234.38" cy="114.02" r="0.55" fill="#22b14c" fill-opacity="0.80"/>
<circle cx="236.47" cy="110.77" r="0.55" fill="#22b14c" fill-opacity="0.80"/>
<circle cx="231.52" cy="99.42" r="0.55" fill="#22b14c" fill-opacity="0.55"/>
<circle cx="232.52" cy="103.31" r="0.55" fill="#22b14c" fill-opacity="0.55"/>
<circle cx="241.70" cy="114.27" r="0.55" fill="#22b14c" fill-opacity="0.80"/>
<circle cx="242.58" cy="114.31" r="0.55" fill="#22b14c" fill-opacity="0.80"/>
<circle cx="236.24" cy="102.62" r="0.55" fill="#22b14c" fill-opacity="0.55"/>
<circle cx="241.54" cy="112.64" r="0.55" fill="#22b14c" fill-opacity="0.80"/>
<circle cx="239.77" cy="112.37" r="0.55" fill="#22b14c" fill-opacity="0.80"/>
<circle cx="227.27" cy="113.77" r="0.55" fill="#22b14c" fill-opacity="0.55"/>
<circle cx="232.40" cy="112.01" r="0.55" fill="#22b14c" fill-opacity="0.55"/>
<circle cx="226.64" cy="110.75" r="0.55" fill="#22b14c" fill-opacity="0.55"/>
<circle cx="232.05" cy="113.37" r="0.55" fill="#22b14c" fill-opacity="0.55"/>
<circle cx="237.02" cy="96.77" r="0.55" fill="#22b14c" fill-opacity="0.55"/>
<circle cx="230.49" cy="109.18" r="0.55" fill="#22b14c" fill-opacity="0.55"/>
<circle cx="222.42" cy="114.37" r="0.55" fill="#22b14c" fill-opacity="0.40"/>
<circle cx="227.23" cy="114.12" r="0.55" fill="#22b14c" fill-opacity="0.55"/>
<circle cx="233.27" cy="113.79" r="0.55" fill="#22b14c" fill-opacity="0.55"/>
<circle cx="231.85" cy="108.87" r="0.55" fill="#22b14c" fill-opacity="0.55"/>
<circle cx="219.93" cy="113.99" r="0.55" fill="#22b14c" fill-opacity="0.40"/>
<circle cx="207.79" cy="114.30" r="0.55" fill="#22b14c" fill-opacity="0.40"/>
<circle cx="224.50" cy="101.87" r="0.55" fill="#22b14c" fill-opacity="0.40"/>
<circle cx="237.99" cy="113.39" r="0.55" fill="#22b14c" fill-opacity="0.80"/>
<circle cx="241.32" cy="109.80" r="0.55" fill="#22b14c" fill-opacity="0.80"/>
<circle cx="241.81" cy="113.68" r="0.55" fill="#22b14c" fill-opacity="0.80"/>
<circle cx="237.99" cy="103.89" r="0.55" fill="#22b14c" fill-opacity="0.55"/>
<circle cx="234.36" cy="98.09" r="0.55" fill="#22b14c" fill-opacity="0.55"/>
<circle cx="241.51" cy="112.59" r="0.55" fill="#22b14c" fill-opacity="0.80"/>
<circle cx="234.72" cy="105.33" r="0.55" fill="#22b14c" fill-opacity="0.55"/>
<circle cx="240.73" cy="112.57" r="0.55" fill="#22b14c" fill-opacity="0.80"/>
<circle cx="236.13" cy="112.86" r="0.55" fill="#22b14c" fill-opacity="0.80"/>
<circle cx="224.12" cy="113.50" r="0.55" fill="#22b14c" fill-opacity="0.40"/>
<circle cx="241.80" cy="114.30" r="0.55" fill="#22b14c" fill-opacity="0.80"/>
<circle cx="238.40" cy="114.35" r="0.55" fill="#22b14c" fill-opacity="0.80"/>
<circle cx="239.73" cy="106.51" r="0.55" fill="#22b14c" fill-opacity="0.80"/>
<circle cx="240.36" cy="112.88" r="0.55" fill="#22b14c" fill-opacity="0.80"/>
<circle cx="231.65" cy="82.68" r="0.55" fill="#22b14c" fill-opacity="0.55"/>
<circle cx="223.33" cy="91.31" r="0.55" fill="#22b14c" fill-opacity="0.40"/>
<circle cx="239.94" cy="104.15" r="0.55" fill="#22b14c" fill-opacity="0.55"/>
<circle cx="240.12" cy="112.96" r="0.55" fill="#22b14c" fill-opacity="0.80"/>
<circle cx="238.02" cy="112.88" r="0.55" fill="#22b14c" fill-opacity="0.80"/>
<circle cx="238.36" cy="98.74" r="0.55" fill="#22b14c" fill-opacity="0.55"/>
<circle cx="231.93" cy="108.04" r="0.55" fill="#22b14c" fill-opacity="0.55"/>
<circle cx="239.80" cy="103.20" r="0.55" fill="#22b14c" fill-opacity="0.55"/>
<circle cx="221.53" cy="99.82" r="0.55" fill="#22b14c" fill-opacity="0.40"/>
<circle cx="242.08" cy="112.91" r="0.55" fill="#22b14c" fill-opacity="0.80"/>
<circle cx="238.49" cy="100.37" r="0.55" fill="#22b14c" fill-opacity="0.55"/>
<circle cx="238.37" cy="107.07" r="0.55" fill="#22b14c" fill-opacity="0.80"/>
<circle cx="241.66" cy="112.61" r="0.55" fill="#22b14c" fill-opacity="0.80"/>
<circle cx="239.16" cy="111.38" r="0.55" fill="#22b14c" fill-opacity="0.80"/>
<circle cx="242.72" cy="114.31" r="0.55" fill="#22b14c" fill-opacity="0.80"/>
<circle cx="219.55" cy="101.75" r="0.55" fill="#22b14c" fill-opacity="0.40"/>
<circle cx="241.26" cy="114.37" r="0.55" fill="#22b14c" fill-opacity="0.80"/>
<circle cx="238.94" cy="101.42" r="0.55" fill="#22b14c" fill-opacity="0.55"/>
<circle cx="239.35" cy="108.18" r="0.55" fill="#22b14c" fill-opacity="0.80"/>
<circle cx="238.25" cy="111.96" r="0.55" fill="#22b14c" fill-opacity="0.80"/>
<circle cx="242.71" cy="113.99" r="0.55" fill="#22b14c" fill-opacity="0.80"/>
<circle cx="238.87" cy="99.96" r="0.55" fill="#22b14c" fill-opacity="0.55"/>
<circle cx="238.93" cy="114.23" r="0.55" fill="#22b14c" fill-opacity="0.80"/>
<circle cx="222.07" cy="109.36" r="0.55" fill="#22b14c" fill-opacity="0.40"/>
<circle cx="235.84" cy="110.89" r="0.55" fill="#22b14c" fill-opacity="0.80"/>
<circle cx="231.64" cy="96.67" r="0.55" fill="#22b14c" fill-opacity="0.55"/>
<circle cx="242.28" cy="114.37" r="0.55" fill="#22b14c" fill-opacity="0.80"/>
<circle cx="232.49" cy="114.29" r="0.55" fill="#22b14c" fill-opacity="0.55"/>
<circle cx="241.30" cy="108.40" r="0.55" fill="#22b14c" fill-opacity="0.80"/>
<circle cx="240.72" cy="110.64" r="0.55" fill="#22b14c" fill-opacity="0.80"/>
<circle cx="237.67" cy="112.46" r="0.55" fill="#22b14c" fill-opacity="0.80"/>
<circle cx="236.49" cy="98.47" r="0.55" fill="#22b14c" fill-opacity="0.55"/>
<circle cx="241.43" cy="110.92" r="0.55" fill="#22b14c" fill-opacity="0.80"/>
<circle cx="242.51" cy="114.35" r="0.55" fill="#22b14c" fill-opacity="0.80"/>
<circle cx="237.48" cy="111.90" r="0.55" fill="#22b14c" fill-opacity="0.80"/>
<circle cx="226.01" cy="98.27" r="0.55" fill="#22b14c" fill-opacity="0.40"/>
<circle cx="237.90" cy="108.81" r="0.55" fill="#22b14c" fill-opacity="0.80"/>
<circle cx="241.07" cy="107.22" r="0.55" fill="#22b14c" fill-opacity="0.80"/>
<circle cx="242.17" cy="114.19" r="0.55" fill="#22b14c" fill-opacity="0.80"/>
<circle cx="220.43" cy="111.11" r="0.55" fill="#22b14c" fill-opacity="0.40"/>
<circle cx="226.18" cy="94.21" r="0.55" fill="#22b14c" fill-opacity="0.40"/>
<circle cx="226.07" cy="85.98" r="0.55" fill="#22b14c" fill-opacity="0.40"/>
<circle cx="242.20" cy="112.85" r="0.55" fill="#22b14c" fill-opacity="0.80"/>
<circle cx="231.79" cy="104.51" r="0.55" fill="#22b14c" fill-opacity="0.55"/>
<circle cx="241.19" cy="108.40" r="0.55" fill="#22b14c" fill-opacity="0.80"/>
<circle cx="236.22" cy="114.13" r="0.55" fill="#22b14c" fill-opacity="0.80"/>
<circle cx="225.72" cy="114.36" r="0.55" fill="#22b14c" fill-opacity="0.40"/>
<circle cx="240.36" cy="108.69" r="0.55" fill="#22b14c" fill-opacity="0.80"/>
<circle cx="236.36" cy="110.88" r="0.55" fill="#22b14c" fill-opacity="0.80"/>
<circle cx="223.23" cy="114.24" r="0.55" fill="#22b14c" fill-opacity="0.40"/>
<circle cx="221.11" cy="114.00" r="0.55" fill="#22b14c" fill-opacity="0.40"/>
<circle cx="241.81" cy="111.26" r="0.55" fill="#22b14c" fill-opacity="0.80"/>
<circle cx="223.11" cy="111.96" r="0.55" fill="#22b14c" fill-opacity="0.40"/>
<circle cx="241.96" cy="112.01" r="0.55" fill="#22b14c" fill-opacity="0.80"/>
<circle cx="240.65" cy="113.76" r="0.55" fill="#22b14c" fill-opacity="0.80"/>
<circle cx="238.18" cy="111.77" r="0.55" fill="#22b14c" fill-opacity="0.80"/>
<circle cx="237.20" cy="105.54" r="0.55" fill="#22b14c" fill-opacity="0.55"/>
<circle cx="241.50" cy="113.24" r="0.55" fill="#22b14c" fill-opacity="0.80"/>
<circle cx="233.81" cy="105.67" r="0.55" fill="#22b14c" fill-opacity="0.55"/>
<circle cx="241.42" cy="114.19" r="0.55" fill="#22b14c" fill-opacity="0.80"/>
<circle cx="241.18" cy="110.17" r="0.55" fill="#22b14c" fill-opacity="0.80"/>
<circle cx="235.40" cy="107.73" r="0.55" fill="#22b14c" fill-opacity="0.80"/>
<circle cx="237.44" cy="111.71" r="0.55" fill="#22b14c" fill-opacity="0.80"/>
<circle cx="235.74" cy="112.05" r="0.55" fill="#22b14c" fill-opacity="0.80"/>
<circle cx="241.01" cy="111.17" r="0.55" fill="#22b14c" fill-opacity="0.80"/>
<circle cx="237.38" cy="103.50" r="0.55" fill="#22b14c" fill-opacity="0.55"/>
<circle cx="227.52" cy="110.21" r="0.55" fill="#22b14c" fill-opacity="0.55"/>
<circle cx="241.20" cy="114.37" r="0.55" fill="#22b14c" fill-opacity="0.80"/>
<circle cx="241.48" cy="109.48" r="0.55" fill="#22b14c" fill-opacity="0.80"/>
<circle cx="233.08" cy="112.62" r="0.55" fill="#22b14c" fill-opacity="0.55"/>
<circle cx="234.83" cy="101.56" r="0.55" fill="#22b14c" fill-opacity="0.55"/>
<circle cx="241.19" cy="114.20" r="0.55" fill="#22b14c" fill-opacity="0.80"/>
<circle cx="226.75" cy="113.50" r="0.55" fill="#22b14c" fill-opacity="0.55"/>
<circle cx="241.85" cy="113.40" r="0.55" fill="#22b14c" fill-opacity="0.80"/>
<circle cx="228.76" cy="112.20" r="0.55" fill="#22b14c" fill-opacity="0.55"/>
<circle cx="222.69" cy="113.81" r="0.55" fill="#22b14c" fill-opacity="0.40"/>
<circle cx="236.49" cy="107.41" r="0.55" fill="#22b14c" fill-opacity="0.80"/>
<circle cx="241.31" cy="110.81" r="0.55" fill="#22b14c" fill-opacity="0.80"/>
<circle cx="240.02" cy="114.25" r="0.55" fill="#22b14c" fill-opacity="0.80"/>
<circle cx="234.21" cy="108.62" r="0.55" fill="#22b14c" fill-opacity="0.80"/>
<circle cx="241.91" cy="114.33" r="0.55" fill="#22b14c" fill-opacity="0.80"/>
<circle cx="241.81" cy="111.44" r="0.55" fill="#22b14c" fill-opacity="0.80"/>
<circle cx="230.37" cy="108.10" r="0.55" fill="#22b14c" fill-opacity="0.55"/>
<circle cx="241.96" cy="113.70" r="0.55" fill="#22b14c" fill-opacity="0.80"/>
<circle cx="221.25" cy="105.55" r="0.55" fill="#22b14c" fill-opacity="0.40"/>
<circle cx="232.15" cy="101.68" r="0.55" fill="#22b14c" fill-opacity="0.55"/>
<circle cx="213.51" cy="92.54" r="0.55" fill="#22b14c" fill-opacity="0.40"/>
<circle cx="227.21" cy="111.72" r="0.55" fill="#22b14c" fill-opacity="0.55"/>
<circle cx="239.38" cy="105.56" r="0.55" fill="#22b14c" fill-opacity="0.55"/>
<circle cx="227.48" cy="109.96" r="0.55" fill="#22b14c" fill-opacity="0.55"/>
<circle cx="239.20" cy="101.28" r="0.55" fill="#22b14c" fill-opacity="0.55"/>
<circle cx="239.35" cy="105.57" r="0.55" fill="#22b14c" fill-opacity="0.55"/>
<circle cx="229.69" cy="107.87" r="0.55" fill="#22b14c" fill-opacity="0.55"/>
<circle cx="241.95" cy="110.69" r="0.55" fill="#22b14c" fill-opacity="0.80"/>
<circle cx="239.31" cy="110.08" r="0.55" fill="#22b14c" fill-opacity="0.80"/>
<circle cx="230.11" cy="94.23" r="0.55" fill="#22b14c" fill-opacity="0.55"/>
<circle cx="232.39" cy="112.92" r="0.55" fill="#22b14c" fill-opacity="0.55"/>
<circle cx="232.79" cy="113.91" r="0.55" fill="#22b14c" fill-opacity="0.55"/>
<circle cx="225.42" cy="112.70" r="0.55" fill="#22b14c" fill-opacity="0.40"/>
<circle cx="237.76" cy="104.20" r="0.55" fill="#22b14c" fill-opacity="0.55"/>
<circle cx="242.36" cy="114.25" r="0.55" fill="#22b14c" fill-opacity="0.80"/>
<circle cx="220.53" cy="113.04" r="0.55" fill="#22b14c" fill-opacity="0.40"/>
<circle cx="232.80" cy="113.97" r="0.55" fill="#22b14c" fill-opacity="0.55"/>
<circle cx="223.45" cy="107.94" r="0.55" fill="#22b14c" fill-opacity="0.40"/>
<circle cx="236.52" cy="111.15" r="0.55" fill="#22b14c" fill-opacity="0.80"/>
<circle cx="223.25" cy="107.49" r="0.55" fill="#22b14c" fill-opacity="0.40"/>
<circle cx="240.40" cy="113.07" r="0.55" fill="#22b14c" fill-opacity="0.80"/>
<circle cx="235.59" cy="112.70" r="0.55" fill="#22b14c" fill-opacity="0.80"/>
<circle cx="242.04" cy="114.38" r="0.55" fill="#22b14c" fill-opacity="0.80"/>
<circle cx="235.28" cy="112.14" r="0.55" fill="#22b14c" fill-opacity="0.80"/>
<circle cx="236.58" cy="111.01" r="0.55" fill="#22b14c" fill-opacity="0.80"/>
<circle cx="211.23" cy="99.11" r="0.55" fill="#22b14c" fill-opacity="0.40"/>
<circle cx="213.23" cy="98.28" r="0.55" fill="#22b14c" fill-opacity="0.40"/>
<circle cx="241.24" cy="108.04" r="0.55" fill="#22b14c" fill-opacity="0.80"/>
<circle cx="235.98" cy="113.91" r="0.55" fill="#22b14c" fill-opacity="0.80"/>
<circle cx="239.79" cy="112.84" r="0.55" fill="#22b14c" fill-opacity="0.80"/>
<circle cx="235.72" cy="95.62" r="0.55" fill="#22b14c" fill-opacity="0.55"/>
<circle cx="224.09" cy="90.67" r="0.55" fill="#22b14c" fill-opacity="0.40"/>
<circle cx="222.80" cy="102.87" r="0.55" fill="#22b14c" fill-opacity="0.40"/>
<circle cx="224.97" cy="93.43" r="0.55" fill="#22b14c" fill-opacity="0.40"/>
<circle cx="235.65" cy="113.90" r="0.55" fill="#22b14c" fill-opacity="0.80"/>
<circle cx="237.93" cy="109.97" r="0.55" fill="#22b14c" fill-opacity="0.80"/>
<circle cx="237.11" cy="96.90" r="0.55" fill="#22b14c" fill-opacity="0.55"/>
<circle cx="242.48" cy="113.93" r="0.55" fill="#22b14c" fill-opacity="0.80"/>
<circle cx="226.68" cy="109.91" r="0.55" fill="#22b14c" fill-opacity="0.55"/>
<circle cx="240.93" cy="111.04" r="0.55" fill="#22b14c" fill-opacity="0.80"/>
<circle cx="242.32" cy="113.12" r="0.55" fill="#22b14c" fill-opacity="0.80"/>
<circle cx="226.13" cy="105.66" r="0.55" fill="#22b14c" fill-opacity="0.40"/>
<circle cx="241.77" cy="112.47" r="0.55" fill="#22b14c" fill-opacity="0.80"/>
<circle cx="242.02" cy="113.86" r="0.55" fill="#22b14c" fill-opacity="0.80"/>
<circle cx="234.59" cy="109.81" r="0.55" fill="#22b14c" fill-opacity="0.80"/>
<circle cx="241.46" cy="110.19" r="0.55" fill="#22b14c" fill-opacity="0.80"/>
<circle cx="240.48" cy="113.63" r="0.55" fill="#22b14c" fill-opacity="0.80"/>
<circle cx="219.75" cy="95.88" r="0.55" fill="#22b14c" fill-opacity="0.40"/>
<circle cx="238.44" cy="112.75" r="0.55" fill="#22b14c" fill-opacity="0.80"/>
<circle cx="227.36" cy="114.33" r="0.55" fill="#22b14c" fill-opacity="0.55"/>
<circle cx="221.75" cy="114.31" r="0.55" fill="#22b14c" fill-opacity="0.40"/>
<circle cx="239.65" cy="109.43" r="0.55" fill="#22b14c" fill-opacity="0.80"/>
<circle cx="223.91" cy="102.19" r="0.55" fill="#22b14c" fill-opacity="0.40"/>
<circle cx="227.54" cy="103.71" r="0.55" fill="#22b14c" fill-opacity="0.55"/>
<circle cx="236.82" cy="109.21" r="0.55" fill="#22b14c" fill-opacity="0.80"/>
<circle cx="239.31" cy="114.36" r="0.55" fill="#22b14c" fill-opacity="0.80"/>
<circle cx="221.11" cy="110.36" r="0.55" fill="#22b14c" fill-opacity="0.40"/>
<circle cx="223.97" cy="112.49" r="0.55" fill="#22b14c" fill-opacity="0.40"/>
<circle cx="242.66" cy="114.24" r="0.55" fill="#22b14c" fill-opacity="0.80"/>
<circle cx="235.69" cy="107.21" r="0.55" fill="#22b14c" fill-opacity="0.80"/>
<circle cx="234.01" cy="99.26" r="0.55" fill="#22b14c" fill-opacity="0.55"/>
<circle cx="221.01" cy="114.37" r="0.55" fill="#22b14c" fill-opacity="0.40"/>
<circle cx="233.23" cy="106.82" r="0.55" fill="#22b14c" fill-opacity="0.55"/>
<circle cx="236.56" cy="104.90" r="0.55" fill="#22b14c" fill-opacity="0.55"/>
<circle cx="242.29" cy="113.07" r="0.55" fill="#22b14c" fill-opacity="0.80"/>
<circle cx="242.09" cy="114.35" r="0.55" fill="#22b14c" fill-opacity="0.80"/>
<circle cx="238.69" cy="105.49" r="0.55" fill="#22b14c" fill-opacity="0.55"/>
<circle cx="242.46" cy="113.12" r="0.55" fill="#22b14c" fill-opacity="0.80"/>
<circle cx="222.42" cy="114.16" r="0.55" fill="#22b14c" fill-opacity="0.40"/>
<circle cx="225.70" cy="90.77" r="0.55" fill="#22b14c" fill-opacity="0.40"/>
<circle cx="239.68" cy="107.59" r="0.55" fill="#22b14c" fill-opacity="0.80"/>
<circle cx="235.80" cy="114.19" r="0.55" fill="#22b14c" fill-opacity="0.80"/>
<circle cx="242.14" cy="114.28" r="0.55" fill="#22b14c" fill-opacity="0.80"/>
<circle cx="230.69" cy="111.36" r="0.55" fill="#22b14c" fill-opacity="0.55"/>
<circle cx="231.75" cy="113.75" r="0.55" fill="#22b14c" fill-opacity="0.55"/>
<circle cx="233.44" cy="102.73" r="0.55" fill="#22b14c" fill-opacity="0.55"/>
<circle cx="236.38" cy="98.13" r="0.55" fill="#22b14c" fill-opacity="0.55"/>
<circle cx="235.03" cy="93.20" r="0.55" fill="#22b14c" fill-opacity="0.55"/>
<circle cx="223.05" cy="104.98" r="0.55" fill="#22b14c" fill-opacity="0.40"/>
<circle cx="211.89" cy="111.63" r="0.55" fill="#22b14c" fill-opacity="0.40"/>
<circle cx="237.19" cy="111.09" r="0.55" fill="#22b14c" fill-opacity="0.80"/>
<circle cx="228.10" cy="93.24" r="0.55" fill="#22b14c" fill-opacity="0.55"/>
<circle cx="239.00" cy="108.90" r="0.55" fill="#22b14c" fill-opacity="0.80"/>
<circle cx="221.71" cy="99.03" r="0.55" fill="#22b14c" fill-opacity="0.40"/>
<circle cx="222.16" cy="112.24" r="0.55" fill="#22b14c" fill-opacity="0.40"/>
<circle cx="223.51" cy="89.45" r="0.55" fill="#22b14c" fill-opacity="0.40"/>
<circle cx="242.74" cy="114.08" r="0.55" fill="#22b14c" fill-opacity="0.80"/>
<circle cx="237.09" cy="93.92" r="0.55" fill="#22b14c" fill-opacity="0.55"/>
<circle cx="237.08" cy="113.37" r="0.55" fill="#22b14c" fill-opacity="0.80"/>
<circle cx="250.95" cy="102.52" r="0.55" fill="#f8766d" fill-opacity="0.55"/>
<circle cx="253.89" cy="112.71" r="0.55" fill="#f8766d" fill-opacity="0.80"/>
<circle cx="267.70" cy="105.59" r="0.55" fill="#f8766d" fill-opacity="0.40"/>
<circle cx="251.01" cy="113.69" r="0.55" fill="#f8766d" fill-opacity="0.80"/>
<circle cx="249.59" cy="110.08" r="0.55" fill="#f8766d" fill-opacity="0.80"/>
<circle cx="253.23" cy="113.76" r="0.55" fill="#f8766d" fill-opacity="0.80"/>
<circle cx="251.10" cy="106.56" r="0.55" fill="#f8766d" fill-opacity="0.80"/>
<circle cx="251.12" cy="112.04" r="0.55" fill="#f8766d" fill-opacity="0.80"/>
<circle cx="248.09" cy="107.03" r="0.55" fill="#f8766d" fill-opacity="0.80"/>
<circle cx="258.51" cy="112.43" r="0.55" fill="#f8766d" fill-opacity="0.55"/>
<circle cx="257.16" cy="94.94" r="0.55" fill="#f8766d" fill-opacity="0.55"/>
<circle cx="269.19" cy="114.34" r="0.55" fill="#f8766d" fill-opacity="0.40"/>
<circle cx="246.50" cy="114.37" r="0.55" fill="#f8766d" fill-opacity="0.80"/>
<circle cx="255.57" cy="90.04" r="0.55" fill="#f8766d" fill-opacity="0.55"/>
<circle cx="255.50" cy="109.83" r="0.55" fill="#f8766d" fill-opacity="0.55"/>
<circle cx="249.87" cy="113.41" r="0.55" fill="#f8766d" fill-opacity="0.80"/>
<circle cx="261.97" cy="99.51" r="0.55" fill="#f8766d" fill-opacity="0.55"/>
<circle cx="249.12" cy="102.94" r="0.55" fill="#f8766d" fill-opacity="0.55"/>
<circle cx="247.33" cy="114.08" r="0.55" fill="#f8766d" fill-opacity="0.80"/>
<circle cx="255.01" cy="114.31" r="0.55" fill="#f8766d" fill-opacity="0.80"/>
<circle cx="263.51" cy="85.83" r="0.55" fill="#f8766d" fill-opacity="0.40"/>
<circle cx="252.43" cy="101.07" r="0.55" fill="#f8766d" fill-opacity="0.55"/>
<circle cx="272.92" cy="105.56" r="0.55" fill="#f8766d" fill-opacity="0.40"/>
<circle cx="249.98" cy="113.38" r="0.55" fill="#f8766d" fill-opacity="0.80"/>
<circle cx="249.34" cy="114.12" r="0.55" fill="#f8766d" fill-opacity="0.80"/>
<circle cx="247.91" cy="114.12" r="0.55" fill="#f8766d" fill-opacity="0.80"/>
<circle cx="246.76" cy="114.27" r="0.55" fill="#f8766d" fill-opacity="0.80"/>
<circle cx="278.32" cy="113.74" r="0.55" fill="#f8766d" fill-opacity="0.40"/>
<circle cx="255.54" cy="101.84" r="0.55" fill="#f8766d" fill-opacity="0.55"/>
<circle cx="252.78" cy="96.97" r="0.55" fill="#f8766d" fill-opacity="0.55"/>
<circle cx="248.28" cy="114.35" r="0.55" fill="#f8766d" fill-opacity="0.80"/>
<circle cx="260.01" cy="96.68" r="0.55" fill="#f8766d" fill-opacity="0.55"/>
<circle cx="248.35" cy="114.17" r="0.55" fill="#f8766d" fill-opacity="0.80"/>
<circle cx="248.75" cy="111.94" r="0.55" fill="#f8766d" fill-opacity="0.80"/>
<circle cx="250.11" cy="114.17" r="0.55" fill="#f8766d" fill-opacity="0.80"/>
<circle cx="255.29" cy="99.91" r="0.55" fill="#f8766d" fill-opacity="0.55"/>
<circle cx="250.35" cy="113.70" r="0.55" fill="#f8766d" fill-opacity="0.80"/>
<circle cx="246.98" cy="111.33" r="0.55" fill="#f8766d" fill-opacity="0.80"/>
<circle cx="256.45" cy="94.23" r="0.55" fill="#f8766d" fill-opacity="0.55"/>
<circle cx="247.01" cy="114.38" r="0.55" fill="#f8766d" fill-opacity="0.80"/>
<circle cx="255.26" cy="114.38" r="0.55" fill="#f8766d" fill-opacity="0.80"/>
<circle cx="259.41" cy="109.86" r="0.55" fill="#f8766d" fill-opacity="0.55"/>
<circle cx="259.88" cy="113.83" r="0.55" fill="#f8766d" fill-opacity="0.55"/>
<circle cx="250.41" cy="105.89" r="0.55" fill="#f8766d" fill-opacity="0.55"/>
<circle cx="248.23" cy="112.39" r="0.55" fill="#f8766d" fill-opacity="0.80"/>
<circle cx="247.40" cy="112.59" r="0.55" fill="#f8766d" fill-opacity="0.80"/>
<circle cx="265.79" cy="113.20" r="0.55" fill="#f8766d" fill-opacity="0.40"/>
<circle cx="246.95" cy="114.37" r="0.55" fill="#f8766d" fill-opacity="0.80"/>
<circle cx="255.13" cy="90.64" r="0.55" fill="#f8766d" fill-opacity="0.55"/>
<circle cx="251.34" cy="97.40" r="0.55" fill="#f8766d" fill-opacity="0.55"/>
<circle cx="249.06" cy="106.51" r="0.55" fill="#f8766d" fill-opacity="0.80"/>
<circle cx="249.16" cy="112.75" r="0.55" fill="#f8766d" fill-opacity="0.80"/>
<circle cx="247.73" cy="113.17" r="0.55" fill="#f8766d" fill-opacity="0.80"/>
<circle cx="250.33" cy="103.41" r="0.55" fill="#f8766d" fill-opacity="0.55"/>
<circle cx="254.81" cy="109.99" r="0.55" fill="#f8766d" fill-opacity="0.80"/>
<circle cx="249.00" cy="104.25" r="0.55" fill="#f8766d" fill-opacity="0.55"/>
<circle cx="252.35" cy="114.37" r="0.55" fill="#f8766d" fill-opacity="0.80"/>
<circle cx="260.04" cy="114.13" r="0.55" fill="#f8766d" fill-opacity="0.55"/>
<circle cx="246.91" cy="114.37" r="0.55" fill="#f8766d" fill-opacity="0.80"/>
<circle cx="247.42" cy="112.64" r="0.55" fill="#f8766d" fill-opacity="0.80"/>
<circle cx="259.33" cy="114.06" r="0.55" fill="#f8766d" fill-opacity="0.55"/>
<circle cx="263.68" cy="114.04" r="0.55" fill="#f8766d" fill-opacity="0.40"/>
<circle cx="249.44" cy="113.37" r="0.55" fill="#f8766d" fill-opacity="0.80"/>
<circle cx="248.59" cy="107.32" r="0.55" fill="#f8766d" fill-opacity="0.80"/>
<circle cx="247.88" cy="110.65" r="0.55" fill="#f8766d" fill-opacity="0.80"/>
<circle cx="251.66" cy="110.53" r="0.55" fill="#f8766d" fill-opacity="0.80"/>
<circle cx="259.39" cy="91.01" r="0.55" fill="#f8766d" fill-opacity="0.55"/>
<circle cx="255.20" cy="111.63" r="0.55" fill="#f8766d" fill-opacity="0.80"/>
<circle cx="256.54" cy="92.74" r="0.55" fill="#f8766d" fill-opacity="0.55"/>
<circle cx="276.85" cy="114.28" r="0.55" fill="#f8766d" fill-opacity="0.40"/>
<circle cx="269.07" cy="112.33" r="0.55" fill="#f8766d" fill-opacity="0.40"/>
<circle cx="249.51" cy="114.31" r="0.55" fill="#f8766d" fill-opacity="0.80"/>
<circle cx="249.83" cy="114.37" r="0.55" fill="#f8766d" fill-opacity="0.80"/>
<circle cx="254.64" cy="101.18" r="0.55" fill="#f8766d" fill-opacity="0.55"/>
<circle cx="267.42" cy="114.34" r="0.55" fill="#f8766d" fill-opacity="0.40"/>
<circle cx="253.57" cy="112.18" r="0.55" fill="#f8766d" fill-opacity="0.80"/>
<circle cx="268.32" cy="112.55" r="0.55" fill="#f8766d" fill-opacity="0.40"/>
<circle cx="257.33" cy="111.64" r="0.55" fill="#f8766d" fill-opacity="0.55"/>
<circle cx="248.00" cy="114.27" r="0.55" fill="#f8766d" fill-opacity="0.80"/>
<circle cx="269.03" cy="112.37" r="0.55" fill="#f8766d" fill-opacity="0.40"/>
<circle cx="249.10" cy="114.18" r="0.55" fill="#f8766d" fill-opacity="0.80"/>
<circle cx="246.99" cy="114.12" r="0.55" fill="#f8766d" fill-opacity="0.80"/>
<circle cx="251.60" cy="106.38" r="0.55" fill="#f8766d" fill-opacity="0.80"/>
<circle cx="262.18" cy="102.26" r="0.55" fill="#f8766d" fill-opacity="0.55"/>
<circle cx="249.61" cy="109.28" r="0.55" fill="#f8766d" fill-opacity="0.80"/>
<circle cx="247.75" cy="112.76" r="0.55" fill="#f8766d" fill-opacity="0.80"/>
<circle cx="249.76" cy="114.37" r="0.55" fill="#f8766d" fill-opacity="0.80"/>
<circle cx="248.72" cy="111.95" r="0.55" fill="#f8766d" fill-opacity="0.80"/>
<circle cx="249.14" cy="113.35" r="0.55" fill="#f8766d" fill-opacity="0.80"/>
<circle cx="251.17" cy="99.33" r="0.55" fill="#f8766d" fill-opacity="0.55"/>
<circle cx="250.85" cy="104.36" r="0.55" fill="#f8766d" fill-opacity="0.55"/>
<circle cx="248.24" cy="106.93" r="0.55" fill="#f8766d" fill-opacity="0.80"/>
<circle cx="251.08" cy="111.96" r="0.55" fill="#f8766d" fill-opacity="0.80"/>
<circle cx="261.42" cy="92.90" r="0.55" fill="#f8766d" fill-opacity="0.55"/>
<circle cx="264.16" cy="96.74" r="0.55" fill="#f8766d" fill-opacity="0.40"/>
<circle cx="248.07" cy="114.26" r="0.55" fill="#f8766d" fill-opacity="0.80"/>
<circle cx="247.72" cy="112.30" r="0.55" fill="#f8766d" fill-opacity="0.80"/>
<circle cx="253.83" cy="104.42" r="0.55" fill="#f8766d" fill-opacity="0.55"/>
<circle cx="248.48" cy="113.07" r="0.55" fill="#f8766d" fill-opacity="0.80"/>
<circle cx="256.02" cy="100.20" r="0.55" fill="#f8766d" fill-opacity="0.55"/>
<circle cx="251.18" cy="112.32" r="0.55" fill="#f8766d" fill-opacity="0.80"/>
<circle cx="266.64" cy="108.93" r="0.55" fill="#f8766d" fill-opacity="0.40"/>
<circle cx="250.32" cy="114.03" r="0.55" fill="#f8766d" fill-opacity="0.80"/>
<circle cx="260.64" cy="95.20" r="0.55" fill="#f8766d" fill-opacity="0.55"/>
<circle cx="251.53" cy="113.49" r="0.55" fill="#f8766d" fill-opacity="0.80"/>
<circle cx="254.11" cy="114.37" r="0.55" fill="#f8766d" fill-opacity="0.80"/>
<circle cx="251.63" cy="101.44" r="0.55" fill="#f8766d" fill-opacity="0.55"/>
<circle cx="269.97" cy="106.93" r="0.55" fill="#f8766d" fill-opacity="0.40"/>
<circle cx="256.34" cy="105.21" r="0.55" fill="#f8766d" fill-opacity="0.55"/>
<circle cx="248.67" cy="109.89" r="0.55" fill="#f8766d" fill-opacity="0.80"/>
<circle cx="249.84" cy="112.05" r="0.55" fill="#f8766d" fill-opacity="0.80"/>
<circle cx="260.48" cy="84.41" r="0.55" fill="#f8766d" fill-opacity="0.55"/>
<circle cx="252.72" cy="111.31" r="0.55" fill="#f8766d" fill-opacity="0.80"/>
<circle cx="265.89" cy="111.98" r="0.55" fill="#f8766d" fill-opacity="0.40"/>
<circle cx="277.16" cy="114.04" r="0.55" fill="#f8766d" fill-opacity="0.40"/>
<circle cx="273.29" cy="83.49" r="0.55" fill="#f8766d" fill-opacity="0.40"/>
<circle cx="265.64" cy="112.40" r="0.55" fill="#f8766d" fill-opacity="0.40"/>
<circle cx="258.93" cy="113.58" r="0.55" fill="#f8766d" fill-opacity="0.55"/>
<circle cx="261.13" cy="88.84" r="0.55" fill="#f8766d" fill-opacity="0.55"/>
<circle cx="248.57" cy="108.52" r="0.55" fill="#f8766d" fill-opacity="0.80"/>
<circle cx="248.90" cy="114.38" r="0.55" fill="#f8766d" fill-opacity="0.80"/>
<circle cx="249.93" cy="113.80" r="0.55" fill="#f8766d" fill-opacity="0.80"/>
<circle cx="251.80" cy="112.80" r="0.55" fill="#f8766d" fill-opacity="0.80"/>
<circle cx="259.52" cy="103.28" r="0.55" fill="#f8766d" fill-opacity="0.55"/>
<circle cx="248.46" cy="114.27" r="0.55" fill="#f8766d" fill-opacity="0.80"/>
<circle cx="248.37" cy="112.02" r="0.55" fill="#f8766d" fill-opacity="0.80"/>
<circle cx="261.35" cy="114.26" r="0.55" fill="#f8766d" fill-opacity="0.55"/>
<circle cx="246.97" cy="114.00" r="0.55" fill="#f8766d" fill-opacity="0.80"/>
<circle cx="250.65" cy="114.20" r="0.55" fill="#f8766d" fill-opacity="0.80"/>
<circle cx="270.23" cy="109.15" r="0.55" fill="#f8766d" fill-opacity="0.40"/>
<circle cx="256.00" cy="88.02" r="0.55" fill="#f8766d" fill-opacity="0.55"/>
<circle cx="249.84" cy="113.47" r="0.55" fill="#f8766d" fill-opacity="0.80"/>
<circle cx="255.04" cy="93.86" r="0.55" fill="#f8766d" fill-opacity="0.55"/>
<circle cx="254.42" cy="87.77" r="0.55" fill="#f8766d" fill-opacity="0.55"/>
<circle cx="250.42" cy="113.38" r="0.55" fill="#f8766d" fill-opacity="0.80"/>
<circle cx="247.09" cy="111.69" r="0.55" fill="#f8766d" fill-opacity="0.80"/>
<circle cx="249.77" cy="113.53" r="0.55" fill="#f8766d" fill-opacity="0.80"/>
<circle cx="248.37" cy="113.65" r="0.55" fill="#f8766d" fill-opacity="0.80"/>
<circle cx="250.20" cy="112.01" r="0.55" fill="#f8766d" fill-opacity="0.80"/>
<circle cx="248.83" cy="114.22" r="0.55" fill="#f8766d" fill-opacity="0.80"/>
<circle cx="255.49" cy="113.48" r="0.55" fill="#f8766d" fill-opacity="0.80"/>
<circle cx="246.52" cy="114.23" r="0.55" fill="#f8766d" fill-opacity="0.80"/>
<circle cx="247.70" cy="114.33" r="0.55" fill="#f8766d" fill-opacity="0.80"/>
<circle cx="247.70" cy="110.20" r="0.55" fill="#f8766d" fill-opacity="0.80"/>
<circle cx="251.19" cy="104.00" r="0.55" fill="#f8766d" fill-opacity="0.55"/>
<circle cx="248.59" cy="113.96" r="0.55" fill="#f8766d" fill-opacity="0.80"/>
<circle cx="268.03" cy="109.39" r="0.55" fill="#f8766d" fill-opacity="0.40"/>
<circle cx="247.43" cy="112.69" r="0.55" fill="#f8766d" fill-opacity="0.80"/>
<circle cx="250.04" cy="108.72" r="0.55" fill="#f8766d" fill-opacity="0.80"/>
<circle cx="248.14" cy="112.11" r="0.55" fill="#f8766d" fill-opacity="0.80"/>
<circle cx="248.20" cy="113.20" r="0.55" fill="#f8766d" fill-opacity="0.80"/>
<circle cx="260.33" cy="110.52" r="0.55" fill="#f8766d" fill-opacity="0.55"/>
<circle cx="250.59" cy="106.69" r="0.55" fill="#f8766d" fill-opacity="0.80"/>
<circle cx="254.88" cy="110.67" r="0.55" fill="#f8766d" fill-opacity="0.80"/>
<circle cx="254.27" cy="112.21" r="0.55" fill="#f8766d" fill-opacity="0.80"/>
<circle cx="251.81" cy="110.74" r="0.55" fill="#f8766d" fill-opacity="0.80"/>
<circle cx="275.71" cy="90.45" r="0.55" fill="#f8766d" fill-opacity="0.40"/>
<circle cx="251.89" cy="114.36" r="0.55" fill="#f8766d" fill-opacity="0.80"/>
<circle cx="262.48" cy="109.98" r="0.55" fill="#f8766d" fill-opacity="0.55"/>
<circle cx="263.28" cy="96.75" r="0.55" fill="#f8766d" fill-opacity="0.40"/>
<circle cx="248.53" cy="106.66" r="0.55" fill="#f8766d" fill-opacity="0.80"/>
<circle cx="263.58" cy="114.34" r="0.55" fill="#f8766d" fill-opacity="0.40"/>
<circle cx="248.63" cy="113.49" r="0.55" fill="#f8766d" fill-opacity="0.80"/>
<circle cx="250.47" cy="113.83" r="0.55" fill="#f8766d" fill-opacity="0.80"/>
<circle cx="260.39" cy="112.41" r="0.55" fill="#f8766d" fill-opacity="0.55"/>
<circle cx="247.43" cy="113.78" r="0.55" fill="#f8766d" fill-opacity="0.80"/>
<circle cx="250.65" cy="114.34" r="0.55" fill="#f8766d" fill-opacity="0.80"/>
<circle cx="261.22" cy="113.05" r="0.55" fill="#f8766d" fill-opacity="0.55"/>
<circle cx="253.65" cy="113.07" r="0.55" fill="#f8766d" fill-opacity="0.80"/>
<circle cx="274.99" cy="103.46" r="0.55" fill="#f8766d" fill-opacity="0.40"/>
<circle cx="246.55" cy="114.36" r="0.55" fill="#f8766d" fill-opacity="0.80"/>
<circle cx="265.73" cy="98.68" r="0.55" fill="#f8766d" fill-opacity="0.40"/>
<circle cx="266.20" cy="108.40" r="0.55" fill="#f8766d" fill-opacity="0.40"/>
<circle cx="255.51" cy="108.87" r="0.55" fill="#f8766d" fill-opacity="0.55"/>
<circle cx="268.40" cy="100.95" r="0.55" fill="#f8766d" fill-opacity="0.40"/>
<circle cx="248.98" cy="111.08" r="0.55" fill="#f8766d" fill-opacity="0.80"/>
<circle cx="271.80" cy="112.62" r="0.55" fill="#f8766d" fill-opacity="0.40"/>
<circle cx="254.79" cy="109.99" r="0.55" fill="#f8766d" fill-opacity="0.80"/>
<circle cx="247.39" cy="112.26" r="0.55" fill="#f8766d" fill-opacity="0.80"/>
<circle cx="248.85" cy="111.58" r="0.55" fill="#f8766d" fill-opacity="0.80"/>
<circle cx="250.56" cy="100.79" r="0.55" fill="#f8766d" fill-opacity="0.55"/>
<circle cx="248.18" cy="113.50" r="0.55" fill="#f8766d" fill-opacity="0.80"/>
<circle cx="259.90" cy="113.49" r="0.55" fill="#f8766d" fill-opacity="0.55"/>
<circle cx="261.03" cy="98.43" r="0.55" fill="#f8766d" fill-opacity="0.55"/>
<circle cx="250.19" cy="112.31" r="0.55" fill="#f8766d" fill-opacity="0.80"/>
<circle cx="250.07" cy="106.80" r="0.55" fill="#f8766d" fill-opacity="0.80"/>
<circle cx="247.87" cy="113.68" r="0.55" fill="#f8766d" fill-opacity="0.80"/>
<circle cx="248.33" cy="114.38" r="0.55" fill="#f8766d" fill-opacity="0.80"/>
<circle cx="275.01" cy="102.75" r="0.55" fill="#f8766d" fill-opacity="0.40"/>
<circle cx="269.70" cy="108.90" r="0.55" fill="#f8766d" fill-opacity="0.40"/>
<circle cx="248.64" cy="111.51" r="0.55" fill="#f8766d" fill-opacity="0.80"/>
<circle cx="252.51" cy="92.39" r="0.55" fill="#f8766d" fill-opacity="0.55"/>
<circle cx="253.25" cy="113.90" r="0.55" fill="#f8766d" fill-opacity="0.80"/>
<circle cx="249.79" cy="104.31" r="0.55" fill="#f8766d" fill-opacity="0.55"/>
<circle cx="249.13" cy="104.38" r="0.55" fill="#f8766d" fill-opacity="0.55"/>
<circle cx="252.76" cy="96.34" r="0.55" fill="#f8766d" fill-opacity="0.55"/>
<circle cx="254.94" cy="98.15" r="0.55" fill="#f8766d" fill-opacity="0.55"/>
<circle cx="250.57" cy="102.35" r="0.55" fill="#f8766d" fill-opacity="0.55"/>
<circle cx="250.92" cy="108.33" r="0.55" fill="#f8766d" fill-opacity="0.80"/>
<circle cx="265.97" cy="89.70" r="0.55" fill="#f8766d" fill-opacity="0.40"/>
<circle cx="267.73" cy="113.69" r="0.55" fill="#f8766d" fill-opacity="0.40"/>
<circle cx="248.14" cy="114.17" r="0.55" fill="#f8766d" fill-opacity="0.80"/>
<circle cx="247.38" cy="114.34" r="0.55" fill="#f8766d" fill-opacity="0.80"/>
<circle cx="249.34" cy="114.38" r="0.55" fill="#f8766d" fill-opacity="0.80"/>
<circle cx="266.77" cy="108.75" r="0.55" fill="#f8766d" fill-opacity="0.40"/>
<circle cx="247.58" cy="112.92" r="0.55" fill="#f8766d" fill-opacity="0.80"/>
<circle cx="249.17" cy="106.32" r="0.55" fill="#f8766d" fill-opacity="0.80"/>
<circle cx="258.35" cy="109.43" r="0.55" fill="#f8766d" fill-opacity="0.55"/>
<circle cx="255.42" cy="114.20" r="0.55" fill="#f8766d" fill-opacity="0.80"/>
<circle cx="250.83" cy="96.98" r="0.55" fill="#f8766d" fill-opacity="0.55"/>
<circle cx="278.28" cy="83.52" r="0.55" fill="#f8766d" fill-opacity="0.40"/>
<circle cx="265.78" cy="104.17" r="0.55" fill="#f8766d" fill-opacity="0.40"/>
<circle cx="254.27" cy="88.51" r="0.55" fill="#f8766d" fill-opacity="0.55"/>
<circle cx="248.87" cy="106.06" r="0.55" fill="#f8766d" fill-opacity="0.55"/>
<circle cx="249.68" cy="108.00" r="0.55" fill="#f8766d" fill-opacity="0.80"/>
<circle cx="252.53" cy="105.86" r="0.55" fill="#f8766d" fill-opacity="0.55"/>
<circle cx="250.04" cy="109.49" r="0.55" fill="#f8766d" fill-opacity="0.80"/>
<circle cx="248.72" cy="111.37" r="0.55" fill="#f8766d" fill-opacity="0.80"/>
<circle cx="248.42" cy="113.81" r="0.55" fill="#f8766d" fill-opacity="0.80"/>
<circle cx="250.03" cy="109.69" r="0.55" fill="#f8766d" fill-opacity="0.80"/>
<circle cx="247.12" cy="114.33" r="0.55" fill="#f8766d" fill-opacity="0.80"/>
<circle cx="260.80" cy="110.62" r="0.55" fill="#f8766d" fill-opacity="0.55"/>
<circle cx="255.38" cy="99.96" r="0.55" fill="#f8766d" fill-opacity="0.55"/>
<circle cx="250.19" cy="106.10" r="0.55" fill="#f8766d" fill-opacity="0.55"/>
<circle cx="250.00" cy="112.05" r="0.55" fill="#f8766d" fill-opacity="0.80"/>
<circle cx="252.45" cy="113.91" r="0.55" fill="#f8766d" fill-opacity="0.80"/>
<circle cx="248.91" cy="112.88" r="0.55" fill="#f8766d" fill-opacity="0.80"/>
<circle cx="247.96" cy="114.06" r="0.55" fill="#f8766d" fill-opacity="0.80"/>
<circle cx="247.76" cy="111.98" r="0.55" fill="#f8766d" fill-opacity="0.80"/>
<circle cx="260.23" cy="89.60" r="0.55" fill="#f8766d" fill-opacity="0.55"/>
<circle cx="251.33" cy="111.99" r="0.55" fill="#f8766d" fill-opacity="0.80"/>
<circle cx="262.86" cy="113.90" r="0.55" fill="#f8766d" fill-opacity="0.40"/>
<circle cx="247.36" cy="114.37" r="0.55" fill="#f8766d" fill-opacity="0.80"/>
<circle cx="249.86" cy="104.99" r="0.55" fill="#f8766d" fill-opacity="0.55"/>
<circle cx="258.15" cy="99.44" r="0.55" fill="#f8766d" fill-opacity="0.55"/>
<circle cx="248.26" cy="111.61" r="0.55" fill="#f8766d" fill-opacity="0.80"/>
<circle cx="251.35" cy="114.13" r="0.55" fill="#f8766d" fill-opacity="0.80"/>
<circle cx="251.77" cy="112.51" r="0.55" fill="#f8766d" fill-opacity="0.80"/>
<circle cx="256.15" cy="96.50" r="0.55" fill="#f8766d" fill-opacity="0.55"/>
<circle cx="263.06" cy="86.16" r="0.55" fill="#f8766d" fill-opacity="0.40"/>
<circle cx="247.93" cy="109.13" r="0.55" fill="#f8766d" fill-opacity="0.80"/>
<circle cx="248.42" cy="108.47" r="0.55" fill="#f8766d" fill-opacity="0.80"/>
<circle cx="256.41" cy="113.69" r="0.55" fill="#f8766d" fill-opacity="0.55"/>
<circle cx="256.43" cy="102.39" r="0.55" fill="#f8766d" fill-opacity="0.55"/>
<circle cx="248.73" cy="113.91" r="0.55" fill="#f8766d" fill-opacity="0.80"/>
<circle cx="270.43" cy="113.74" r="0.55" fill="#f8766d" fill-opacity="0.40"/>
<circle cx="252.63" cy="111.17" r="0.55" fill="#f8766d" fill-opacity="0.80"/>
<circle cx="247.69" cy="113.72" r="0.55" fill="#f8766d" fill-opacity="0.80"/>
<circle cx="260.15" cy="113.91" r="0.55" fill="#f8766d" fill-opacity="0.55"/>
<circle cx="253.73" cy="108.15" r="0.55" fill="#f8766d" fill-opacity="0.80"/>
<circle cx="249.99" cy="110.16" r="0.55" fill="#f8766d" fill-opacity="0.80"/>
<circle cx="281.89" cy="107.46" r="0.55" fill="#f8766d" fill-opacity="0.40"/>
<circle cx="267.15" cy="101.97" r="0.55" fill="#f8766d" fill-opacity="0.40"/>
<circle cx="255.75" cy="98.57" r="0.55" fill="#f8766d" fill-opacity="0.55"/>
<circle cx="268.64" cy="111.62" r="0.55" fill="#f8766d" fill-opacity="0.40"/>
<circle cx="264.18" cy="103.19" r="0.55" fill="#f8766d" fill-opacity="0.40"/>
<circle cx="251.11" cy="112.15" r="0.55" fill="#f8766d" fill-opacity="0.80"/>
<circle cx="247.96" cy="112.75" r="0.55" fill="#f8766d" fill-opacity="0.80"/>
<circle cx="246.56" cy="114.35" r="0.55" fill="#f8766d" fill-opacity="0.80"/>
<circle cx="249.95" cy="111.31" r="0.55" fill="#f8766d" fill-opacity="0.80"/>
<circle cx="250.15" cy="114.31" r="0.55" fill="#f8766d" fill-opacity="0.80"/>
<circle cx="248.13" cy="110.32" r="0.55" fill="#f8766d" fill-opacity="0.80"/>
<circle cx="268.61" cy="92.56" r="0.55" fill="#f8766d" fill-opacity="0.40"/>
<circle cx="249.42" cy="110.06" r="0.55" fill="#f8766d" fill-opacity="0.80"/>
<circle cx="263.83" cy="108.70" r="0.55" fill="#f8766d" fill-opacity="0.40"/>
<circle cx="249.14" cy="104.91" r="0.55" fill="#f8766d" fill-opacity="0.55"/>
<circle cx="246.46" cy="114.30" r="0.55" fill="#f8766d" fill-opacity="0.80"/>
<circle cx="252.51" cy="113.37" r="0.55" fill="#f8766d" fill-opacity="0.80"/>
<circle cx="266.97" cy="113.24" r="0.55" fill="#f8766d" fill-opacity="0.40"/>
<circle cx="269.18" cy="114.19" r="0.55" fill="#f8766d" fill-opacity="0.40"/>
<circle cx="267.22" cy="113.90" r="0.55" fill="#f8766d" fill-opacity="0.40"/>
<circle cx="247.46" cy="110.55" r="0.55" fill="#f8766d" fill-opacity="0.80"/>
<circle cx="268.28" cy="111.80" r="0.55" fill="#f8766d" fill-opacity="0.40"/>
<circle cx="262.15" cy="102.17" r="0.55" fill="#f8766d" fill-opacity="0.55"/>
<circle cx="251.10" cy="106.72" r="0.55" fill="#f8766d" fill-opacity="0.80"/>
<circle cx="248.18" cy="111.56" r="0.55" fill="#f8766d" fill-opacity="0.80"/>
<circle cx="247.19" cy="113.12" r="0.55" fill="#f8766d" fill-opacity="0.80"/>
<circle cx="255.27" cy="99.17" r="0.55" fill="#f8766d" fill-opacity="0.55"/>
<circle cx="246.60" cy="114.34" r="0.55" fill="#f8766d" fill-opacity="0.80"/>
<circle cx="246.64" cy="114.07" r="0.55" fill="#f8766d" fill-opacity="0.80"/>
<circle cx="260.80" cy="102.15" r="0.55" fill="#f8766d" fill-opacity="0.55"/>
<circle cx="255.03" cy="112.35" r="0.55" fill="#f8766d" fill-opacity="0.80"/>
<circle cx="264.71" cy="111.42" r="0.55" fill="#f8766d" fill-opacity="0.40"/>
<circle cx="269.50" cy="112.28" r="0.55" fill="#f8766d" fill-opacity="0.40"/>
<circle cx="268.69" cy="114.37" r="0.55" fill="#f8766d" fill-opacity="0.40"/>
<circle cx="248.50" cy="108.89" r="0.55" fill="#f8766d" fill-opacity="0.80"/>
<circle cx="249.89" cy="114.26" r="0.55" fill="#f8766d" fill-opacity="0.80"/>
<circle cx="246.64" cy="114.37" r="0.55" fill="#f8766d" fill-opacity="0.80"/>
<circle cx="260.05" cy="93.37" r="0.55" fill="#f8766d" fill-opacity="0.55"/>
<circle cx="248.20" cy="107.62" r="0.55" fill="#f8766d" fill-opacity="0.80"/>
<circle cx="248.85" cy="107.98" r="0.55" fill="#f8766d" fill-opacity="0.80"/>
<circle cx="252.07" cy="111.60" r="0.55" fill="#f8766d" fill-opacity="0.80"/>
<circle cx="257.92" cy="93.56" r="0.55" fill="#f8766d" fill-opacity="0.55"/>
<circle cx="247.05" cy="114.36" r="0.55" fill="#f8766d" fill-opacity="0.80"/>
<circle cx="256.62" cy="114.26" r="0.55" fill="#f8766d" fill-opacity="0.55"/>
<circle cx="256.80" cy="85.19" r="0.55" fill="#f8766d" fill-opacity="0.55"/>
<circle cx="252.64" cy="112.68" r="0.55" fill="#f8766d" fill-opacity="0.80"/>
<circle cx="246.80" cy="113.41" r="0.55" fill="#f8766d" fill-opacity="0.80"/>
<circle cx="249.66" cy="113.73" r="0.55" fill="#f8766d" fill-opacity="0.80"/>
<circle cx="251.13" cy="99.52" r="0.55" fill="#f8766d" fill-opacity="0.55"/>
<circle cx="246.50" cy="114.25" r="0.55" fill="#f8766d" fill-opacity="0.80"/>
<circle cx="255.42" cy="113.53" r="0.55" fill="#f8766d" fill-opacity="0.80"/>
<circle cx="261.00" cy="105.30" r="0.55" fill="#f8766d" fill-opacity="0.55"/>
<circle cx="259.64" cy="110.19" r="0.55" fill="#f8766d" fill-opacity="0.55"/>
<circle cx="266.95" cy="96.62" r="0.55" fill="#f8766d" fill-opacity="0.40"/>
<circle cx="262.14" cy="114.10" r="0.55" fill="#f8766d" fill-opacity="0.55"/>
<circle cx="253.94" cy="113.67" r="0.55" fill="#f8766d" fill-opacity="0.80"/>
<circle cx="249.81" cy="107.68" r="0.55" fill="#f8766d" fill-opacity="0.80"/>
<circle cx="252.20" cy="95.79" r="0.55" fill="#f8766d" fill-opacity="0.55"/>
<circle cx="254.61" cy="99.05" r="0.55" fill="#f8766d" fill-opacity="0.55"/>
<circle cx="248.47" cy="113.89" r="0.55" fill="#f8766d" fill-opacity="0.80"/>
<circle cx="255.58" cy="114.37" r="0.55" fill="#f8766d" fill-opacity="0.55"/>
<circle cx="262.67" cy="113.91" r="0.55" fill="#f8766d" fill-opacity="0.55"/>
<circle cx="249.78" cy="107.68" r="0.55" fill="#f8766d" fill-opacity="0.80"/>
<circle cx="250.27" cy="110.31" r="0.55" fill="#f8766d" fill-opacity="0.80"/>
<circle cx="249.85" cy="112.60" r="0.55" fill="#f8766d" fill-opacity="0.80"/>
<circle cx="250.92" cy="99.70" r="0.55" fill="#f8766d" fill-opacity="0.55"/>
<circle cx="253.74" cy="112.71" r="0.55" fill="#f8766d" fill-opacity="0.80"/>
<circle cx="251.97" cy="107.25" r="0.55" fill="#f8766d" fill-opacity="0.80"/>
<circle cx="247.96" cy="111.06" r="0.55" fill="#f8766d" fill-opacity="0.80"/>
<circle cx="259.80" cy="100.93" r="0.55" fill="#f8766d" fill-opacity="0.55"/>
<circle cx="278.53" cy="109.55" r="0.55" fill="#f8766d" fill-opacity="0.40"/>
<circle cx="257.78" cy="110.47" r="0.55" fill="#f8766d" fill-opacity="0.55"/>
<circle cx="252.74" cy="91.14" r="0.55" fill="#f8766d" fill-opacity="0.55"/>
<circle cx="255.03" cy="105.17" r="0.55" fill="#f8766d" fill-opacity="0.55"/>
<circle cx="253.34" cy="113.41" r="0.55" fill="#f8766d" fill-opacity="0.80"/>
<circle cx="251.09" cy="114.33" r="0.55" fill="#f8766d" fill-opacity="0.80"/>
<circle cx="254.89" cy="105.52" r="0.55" fill="#f8766d" fill-opacity="0.55"/>
<circle cx="253.48" cy="114.38" r="0.55" fill="#f8766d" fill-opacity="0.80"/>
<circle cx="266.73" cy="104.64" r="0.55" fill="#f8766d" fill-opacity="0.40"/>
<circle cx="260.34" cy="98.25" r="0.55" fill="#f8766d" fill-opacity="0.55"/>
<circle cx="247.55" cy="112.36" r="0.55" fill="#f8766d" fill-opacity="0.80"/>
<circle cx="254.84" cy="105.77" r="0.55" fill="#f8766d" fill-opacity="0.55"/>
<circle cx="251.12" cy="113.00" r="0.55" fill="#f8766d" fill-opacity="0.80"/>
<circle cx="267.13" cy="106.12" r="0.55" fill="#f8766d" fill-opacity="0.40"/>
<circle cx="246.90" cy="113.61" r="0.55" fill="#f8766d" fill-opacity="0.80"/>
<circle cx="259.43" cy="112.59" r="0.55" fill="#f8766d" fill-opacity="0.55"/>
<circle cx="249.05" cy="111.97" r="0.55" fill="#f8766d" fill-opacity="0.80"/>
<circle cx="266.15" cy="89.99" r="0.55" fill="#f8766d" fill-opacity="0.40"/>
<circle cx="253.13" cy="113.96" r="0.55" fill="#f8766d" fill-opacity="0.80"/>
<path d="M242.78 114.4 L234.31 114.4 Q238.55 113.07 240.85 107.76 Q241.88 110.17 242.78 114.4 Z" fill="#22b14c" fill-opacity="0.9"/>
<path d="M246.41 114.4 L255.49 114.4 Q251.25 112.11 248.83 104.86 Q247.32 108.24 246.41 114.4 Z" fill="#f8766d" fill-opacity="0.9"/>
<circle cx="197.5" cy="37.2" r="0.7" fill="#35c8a0" fill-opacity="0.70"/>
<circle cx="225.5" cy="72.0" r="0.7" fill="#35c8a0" fill-opacity="0.60"/>
<circle cx="234.9" cy="70.7" r="0.7" fill="#35c8a0" fill-opacity="0.60"/>
<circle cx="254.7" cy="37.2" r="0.7" fill="#f8a09a" fill-opacity="0.50"/>
<circle cx="275.6" cy="17.3" r="0.7" fill="#f8a09a" fill-opacity="0.55"/>
<circle cx="294.7" cy="70.0" r="0.7" fill="#f8a09a" fill-opacity="0.50"/>
<circle cx="294.2" cy="72.0" r="0.7" fill="#f8a09a" fill-opacity="0.50"/>
<circle cx="199.3" cy="84.7" r="0.7" fill="#35c8a0" fill-opacity="0.50"/>
<circle cx="210.0" cy="82.4" r="0.7" fill="#35c8a0" fill-opacity="0.50"/>
<circle cx="199.3" cy="91.8" r="0.7" fill="#35c8a0" fill-opacity="0.50"/>
<circle cx="252.5" cy="84.5" r="0.7" fill="#f8766d" fill-opacity="0.60"/>
<circle cx="292.0" cy="75.0" r="0.7" fill="#f8a09a" fill-opacity="0.40"/>
<line x1="193.4" x2="193.4" y1="12" y2="126.9" stroke="#555" stroke-width="0.8"/>
<line x1="193" x2="299.8" y1="126.7" y2="126.7" stroke="#555" stroke-width="0.8"/>
<text x="195.0" y="134.2" font-size="8" text-anchor="middle">−8</text>
<text x="219.2" y="134.2" font-size="8" text-anchor="middle">−4</text>
<text x="244.6" y="134.2" font-size="8" text-anchor="middle">0</text>
<text x="268.8" y="134.2" font-size="8" text-anchor="middle">4</text>
<text x="293.0" y="134.2" font-size="8" text-anchor="middle">8</text>
<text x="191.3" y="26.8" font-size="7.2" text-anchor="end">20</text>
<text x="191.3" y="74.9" font-size="7.2" text-anchor="end">10</text>
<text x="191.3" y="116.9" font-size="7.2" text-anchor="end">0</text>
<text x="243" y="143.6" font-size="7.8" text-anchor="middle">log2(fold change)</text>
<text transform="translate(179 75.4) rotate(-90)" font-size="7.75" text-anchor="middle">−log10(<tspan font-style="italic" font-size="7" dx="1">p</tspan><tspan dx="0.9">-value)</tspan></text>
</g>
<g id="panelC">
<text x="311.5" y="11.2" font-size="8.6">C</text>
<rect x="437" y="21.80" width="36.0" height="11.6" fill="#fff" stroke="#9a9a9a" stroke-width="0.9"/>
<line x1="434.8" x2="437" y1="27.60" y2="27.60" stroke="#666" stroke-width="0.7"/>
<line x1="435.6" x2="437" y1="36.38" y2="36.38" stroke="#888" stroke-width="0.6"/>
<text x="433.6" y="30.30" font-size="7.97" text-anchor="end">TNF signaling pathway</text>
<rect x="437" y="39.35" width="55.6" height="11.6" fill="#fff" stroke="#9a9a9a" stroke-width="0.9"/>
<line x1="434.8" x2="437" y1="45.15" y2="45.15" stroke="#666" stroke-width="0.7"/>
<line x1="435.6" x2="437" y1="53.93" y2="53.93" stroke="#888" stroke-width="0.6"/>
<text x="433.6" y="47.85" font-size="7.97" text-anchor="end">arachidonic acid metabolism</text>
<rect x="437" y="56.90" width="62.9" height="11.6" fill="#fff" stroke="#9a9a9a" stroke-width="0.9"/>
<line x1="434.8" x2="437" y1="62.70" y2="62.70" stroke="#666" stroke-width="0.7"/>
<line x1="435.6" x2="437" y1="71.48" y2="71.48" stroke="#888" stroke-width="0.6"/>
<text x="433.6" y="65.40" font-size="7.97" text-anchor="end">IL-17 signaling pathway</text>
<rect x="437" y="74.45" width="64.8" height="11.6" fill="#fff" stroke="#9a9a9a" stroke-width="0.9"/>
<line x1="434.8" x2="437" y1="80.25" y2="80.25" stroke="#666" stroke-width="0.7"/>
<line x1="435.6" x2="437" y1="89.03" y2="89.03" stroke="#888" stroke-width="0.6"/>
<text x="433.6" y="82.95" font-size="7.97" text-anchor="end">regulation of lipolysis in adipocytes</text>
<rect x="437" y="92.00" width="65.5" height="11.6" fill="#fff" stroke="#9a9a9a" stroke-width="0.9"/>
<line x1="434.8" x2="437" y1="97.80" y2="97.80" stroke="#666" stroke-width="0.7"/>
<line x1="435.6" x2="437" y1="106.58" y2="106.58" stroke="#888" stroke-width="0.6"/>
<text x="433.6" y="100.50" font-size="7.97" text-anchor="end">linoleic acid metabolism</text>
<rect x="437" y="109.55" width="66.7" height="11.6" fill="#fff" stroke="#9a9a9a" stroke-width="0.9"/>
<line x1="434.8" x2="437" y1="115.35" y2="115.35" stroke="#666" stroke-width="0.7"/>
<text x="433.6" y="118.05" font-size="7.97" text-anchor="end">PI3K-AKT signaling pathway</text>
<line x1="437" x2="437" y1="18.4" y2="124.2" stroke="#666" stroke-width="0.9"/>
<line x1="436.6" x2="520" y1="123.9" y2="123.9" stroke="#666" stroke-width="0.9"/>
<line x1="437.0" x2="437.0" y1="123.9" y2="126" stroke="#666" stroke-width="0.8"/>
<text x="437.0" y="135" font-size="7.8" text-anchor="middle">0</text>
<line x1="464.6" x2="464.6" y1="123.9" y2="126" stroke="#666" stroke-width="0.8"/>
<text x="464.6" y="135" font-size="7.8" text-anchor="middle">1</text>
<line x1="492.2" x2="492.2" y1="123.9" y2="126" stroke="#666" stroke-width="0.8"/>
<text x="492.2" y="135" font-size="7.8" text-anchor="middle">2</text>
<line x1="519.8" x2="519.8" y1="123.9" y2="126" stroke="#666" stroke-width="0.8"/>
<text x="519.8" y="135" font-size="7.8" text-anchor="middle">3</text>
<text x="476.7" y="142.6" font-size="7.6" text-anchor="middle">−log10(<tspan font-style="italic" font-size="6.3" dx="1">p</tspan><tspan dx="0.9">-value)</tspan></text>
</g>
<g id="panelD">
<text x="25.9" y="169.2" font-size="8.6">D</text>
<line x1="52.8" x2="52.8" y1="180.5" y2="219.6" stroke="#bdbdbd" stroke-width="0.8"/>
<line x1="50.8" x2="545" y1="219.4" y2="219.4" stroke="#c4c4c4" stroke-width="0.8"/>
<line x1="50.8" x2="52.8" y1="219.40" y2="219.40" stroke="#bdbdbd" stroke-width="0.7"/>
<text transform="translate(45.7 222.70) scale(1.2 1)" font-size="7.6" text-anchor="end">0</text>
<line x1="50.8" x2="52.8" y1="211.64" y2="211.64" stroke="#bdbdbd" stroke-width="0.7"/>
<text transform="translate(45.7 214.84) scale(1.2 1)" font-size="7.6" text-anchor="end">2</text>
<line x1="50.8" x2="52.8" y1="203.88" y2="203.88" stroke="#bdbdbd" stroke-width="0.7"/>
<text transform="translate(45.7 206.98) scale(1.2 1)" font-size="7.6" text-anchor="end">4</text>
<line x1="50.8" x2="52.8" y1="196.12" y2="196.12" stroke="#bdbdbd" stroke-width="0.7"/>
<text transform="translate(45.7 199.12) scale(1.2 1)" font-size="7.6" text-anchor="end">6</text>
<line x1="50.8" x2="52.8" y1="188.36" y2="188.36" stroke="#bdbdbd" stroke-width="0.7"/>
<text transform="translate(45.7 191.26) scale(1.2 1)" font-size="7.6" text-anchor="end">8</text>
<line x1="50.8" x2="52.8" y1="180.60" y2="180.60" stroke="#bdbdbd" stroke-width="0.7"/>
<text transform="translate(45.7 183.40) scale(1.2 1)" font-size="7.6" text-anchor="end">10</text>
<line x1="52.80" x2="52.80" y1="219.4" y2="221.6" stroke="#c4c4c4" stroke-width="0.7"/>
<line x1="69.21" x2="69.21" y1="219.4" y2="221.6" stroke="#c4c4c4" stroke-width="0.7"/>
<line x1="85.62" x2="85.62" y1="219.4" y2="221.6" stroke="#c4c4c4" stroke-width="0.7"/>
<line x1="102.03" x2="102.03" y1="219.4" y2="221.6" stroke="#c4c4c4" stroke-width="0.7"/>
<line x1="118.44" x2="118.44" y1="219.4" y2="221.6" stroke="#c4c4c4" stroke-width="0.7"/>
<line x1="134.85" x2="134.85" y1="219.4" y2="221.6" stroke="#c4c4c4" stroke-width="0.7"/>
<line x1="151.26" x2="151.26" y1="219.4" y2="221.6" stroke="#c4c4c4" stroke-width="0.7"/>
<line x1="167.67" x2="167.67" y1="219.4" y2="221.6" stroke="#c4c4c4" stroke-width="0.7"/>
<line x1="184.08" x2="184.08" y1="219.4" y2="221.6" stroke="#c4c4c4" stroke-width="0.7"/>
<line x1="200.49" x2="200.49" y1="219.4" y2="221.6" stroke="#c4c4c4" stroke-width="0.7"/>
<line x1="216.90" x2="216.90" y1="219.4" y2="221.6" stroke="#c4c4c4" stroke-width="0.7"/>
<line x1="233.31" x2="233.31" y1="219.4" y2="221.6" stroke="#c4c4c4" stroke-width="0.7"/>
<line x1="249.72" x2="249.72" y1="219.4" y2="221.6" stroke="#c4c4c4" stroke-width="0.7"/>
<line x1="266.13" x2="266.13" y1="219.4" y2="221.6" stroke="#c4c4c4" stroke-width="0.7"/>
<line x1="282.54" x2="282.54" y1="219.4" y2="221.6" stroke="#c4c4c4" stroke-width="0.7"/>
<line x1="298.95" x2="298.95" y1="219.4" y2="221.6" stroke="#c4c4c4" stroke-width="0.7"/>
<line x1="315.36" x2="315.36" y1="219.4" y2="221.6" stroke="#c4c4c4" stroke-width="0.7"/>
<line x1="331.77" x2="331.77" y1="219.4" y2="221.6" stroke="#c4c4c4" stroke-width="0.7"/>
<line x1="348.18" x2="348.18" y1="219.4" y2="221.6" stroke="#c4c4c4" stroke-width="0.7"/>
<line x1="364.59" x2="364.59" y1="219.4" y2="221.6" stroke="#c4c4c4" stroke-width="0.7"/>
<line x1="381.00" x2="381.00" y1="219.4" y2="221.6" stroke="#c4c4c4" stroke-width="0.7"/>
<line x1="397.41" x2="397.41" y1="219.4" y2="221.6" stroke="#c4c4c4" stroke-width="0.7"/>
<line x1="413.82" x2="413.82" y1="219.4" y2="221.6" stroke="#c4c4c4" stroke-width="0.7"/>
<line x1="430.23" x2="430.23" y1="219.4" y2="221.6" stroke="#c4c4c4" stroke-width="0.7"/>
<line x1="446.64" x2="446.64" y1="219.4" y2="221.6" stroke="#c4c4c4" stroke-width="0.7"/>
<line x1="463.05" x2="463.05" y1="219.4" y2="221.6" stroke="#c4c4c4" stroke-width="0.7"/>
<line x1="479.46" x2="479.46" y1="219.4" y2="221.6" stroke="#c4c4c4" stroke-width="0.7"/>
<line x1="495.87" x2="495.87" y1="219.4" y2="221.6" stroke="#c4c4c4" stroke-width="0.7"/>
<line x1="512.28" x2="512.28" y1="219.4" y2="221.6" stroke="#c4c4c4" stroke-width="0.7"/>
<line x1="528.69" x2="528.69" y1="219.4" y2="221.6" stroke="#c4c4c4" stroke-width="0.7"/>
<line x1="545.10" x2="545.10" y1="219.4" y2="221.6" stroke="#c4c4c4" stroke-width="0.7"/>
<rect x="57.85" y="193.4" width="6.3" height="26.0" fill="url(#gb)"/>
<rect x="74.26" y="194.9" width="6.3" height="24.5" fill="url(#gb)"/>
<rect x="90.67" y="197.9" width="6.3" height="21.5" fill="url(#gb)"/>
<rect x="107.08" y="198.7" width="6.3" height="20.7" fill="url(#gb)"/>
<rect x="123.49" y="198.7" width="6.3" height="20.7" fill="url(#gb)"/>
<rect x="139.90" y="193.6" width="6.3" height="25.8" fill="#fe0000"/>
<rect x="156.31" y="194.9" width="6.3" height="24.5" fill="#fe0000"/>
<rect x="172.72" y="195.5" width="6.3" height="23.9" fill="#fe0000"/>
<rect x="189.13" y="195.8" width="6.3" height="23.6" fill="#fe0000"/>
<rect x="205.54" y="195.8" width="6.3" height="23.6" fill="#fe0000"/>
<rect x="221.95" y="203.7" width="6.3" height="15.7" fill="#00b050"/>
<rect x="238.36" y="204.0" width="6.3" height="15.4" fill="#00b050"/>
<rect x="254.77" y="204.3" width="6.3" height="15.1" fill="#00b050"/>
<rect x="271.18" y="205.0" width="6.3" height="14.4" fill="#00b050"/>
<rect x="287.59" y="206.7" width="6.3" height="12.7" fill="#00b050"/>
<rect x="304.00" y="203.8" width="6.3" height="15.6" fill="url(#gb)"/>
<rect x="320.41" y="204.3" width="6.3" height="15.1" fill="url(#gb)"/>
<rect x="336.82" y="206.4" width="6.3" height="13.0" fill="url(#gb)"/>
<rect x="353.23" y="207.8" width="6.3" height="11.6" fill="url(#gb)"/>
<rect x="369.64" y="208.0" width="6.3" height="11.4" fill="url(#gb)"/>
<rect x="386.05" y="207.4" width="6.3" height="12.0" fill="#fe0000"/>
<rect x="402.46" y="209.0" width="6.3" height="10.4" fill="#fe0000"/>
<rect x="418.87" y="210.2" width="6.3" height="9.2" fill="#fe0000"/>
<rect x="435.28" y="211.1" width="6.3" height="8.3" fill="#fe0000"/>
<rect x="451.69" y="211.6" width="6.3" height="7.8" fill="#fe0000"/>
<rect x="468.10" y="184.9" width="6.3" height="34.5" fill="#00b050"/>
<rect x="484.51" y="204.0" width="6.3" height="15.4" fill="#00b050"/>
<rect x="500.92" y="204.3" width="6.3" height="15.1" fill="#00b050"/>
<rect x="517.33" y="208.0" width="6.3" height="11.4" fill="#00b050"/>
<rect x="533.74" y="210.0" width="6.3" height="9.4" fill="#00b050"/>
<line x1="57.6" x2="294.5" y1="181.3" y2="181.3" stroke="#111" stroke-width="1.1"/>
<line x1="303.5" x2="540.8" y1="181.3" y2="181.3" stroke="#111" stroke-width="1.1"/>
<text x="176" y="178.2" font-size="7.75" text-anchor="middle">up-regulated DE genes</text>
<text x="422.3" y="178.2" font-size="7.75" text-anchor="middle">down-regulated DE genes</text>
<text x="94.0" y="192.2" font-size="7.7" text-anchor="middle">BP</text>
<text x="175.7" y="192.2" font-size="7.7" text-anchor="middle">CC</text>
<text x="256.5" y="192.2" font-size="7.7" text-anchor="middle">MF</text>
<text x="339.9" y="192.2" font-size="7.7" text-anchor="middle">BP</text>
<text x="422.7" y="192.2" font-size="7.7" text-anchor="middle">CC</text>
<text x="504.4" y="192.2" font-size="7.7" text-anchor="middle">MF</text>
<text transform="translate(31.1 199.8) rotate(-90) scale(1 1.12)" font-size="7.5" text-anchor="middle">−log10(<tspan font-style="italic" font-size="6.3" dx="0.8">p</tspan><tspan dx="0.8">-value)</tspan></text>
<text transform="translate(61.60 230.40) rotate(-58.9)" x="0" y="2.8" font-size="8.00" text-anchor="end">response to cytokine</text>
<text transform="translate(78.01 230.40) rotate(-58.9)" x="0" y="2.8" font-size="8.00" text-anchor="end">positive regulation of cell differentiation</text>
<text transform="translate(94.42 230.40) rotate(-58.9)" x="0" y="2.8" font-size="8.00" text-anchor="end">positive regulation of cell migration</text>
<text transform="translate(110.83 230.40) rotate(-58.9)" x="0" y="2.8" font-size="8.00" text-anchor="end">positive regulation of cell proliferation</text>
<text transform="translate(127.24 230.40) rotate(-58.9)" x="0" y="2.8" font-size="8.00" text-anchor="end">positive regulation of cell motility</text>
<text transform="translate(143.65 230.40) rotate(-58.9)" x="0" y="2.8" font-size="8.00" text-anchor="end">polymeric cytoskeletal fiber</text>
<text transform="translate(160.06 230.40) rotate(-58.9)" x="0" y="2.8" font-size="8.00" text-anchor="end">extracellular space</text>
<text transform="translate(176.47 230.40) rotate(-58.9)" x="0" y="2.8" font-size="8.00" text-anchor="end">supramolecular fiber</text>
<text transform="translate(192.88 230.40) rotate(-58.9)" x="0" y="2.8" font-size="8.00" text-anchor="end">supramolecular complex</text>
<text transform="translate(209.29 230.40) rotate(-58.9)" x="0" y="2.8" font-size="8.00" text-anchor="end">supramolecular polymer</text>
<text transform="translate(225.70 230.40) rotate(-58.9)" x="0" y="2.8" font-size="8.00" text-anchor="end">metalloendopeptidase activity</text>
<text transform="translate(242.11 230.40) rotate(-58.9)" x="0" y="2.8" font-size="8.00" text-anchor="end">cargo receptor activity</text>
<text transform="translate(258.52 230.40) rotate(-58.9)" x="0" y="2.8" font-size="8.00" text-anchor="end">GTPase activity</text>
<text transform="translate(274.93 230.40) rotate(-58.9)" x="0" y="2.8" font-size="8.00" text-anchor="end">calcium ion binding</text>
<text transform="translate(291.34 230.40) rotate(-58.9)" x="0" y="2.8" font-size="8.00" text-anchor="end">structural constituent of cytoskeleton</text>
<text transform="translate(307.75 230.40) rotate(-58.9)" x="0" y="2.8" font-size="8.00" text-anchor="end">carboxylic acid metabolic process</text>
<text transform="translate(324.16 230.40) rotate(-58.9)" x="0" y="2.8" font-size="8.00" text-anchor="end">alpha-amino acid metabolic process</text>
<text transform="translate(340.57 230.40) rotate(-58.9)" x="0" y="2.8" font-size="8.00" text-anchor="end">B cell receptor signaling pathway</text>
<text transform="translate(356.98 230.40) rotate(-58.9)" x="0" y="2.8" font-size="8.00" text-anchor="end">primary alcohol metabolic process</text>
<text transform="translate(373.39 230.40) rotate(-58.9)" x="0" y="2.8" font-size="8.00" text-anchor="end">organic hydroxy compound catabolic process</text>
<text transform="translate(389.80 230.40) rotate(-58.9)" x="0" y="2.8" font-size="8.00" text-anchor="end">ribosomal subunit</text>
<text transform="translate(406.21 230.40) rotate(-58.9)" x="0" y="2.8" font-size="8.00" text-anchor="end">organelle envelope lumen</text>
<text transform="translate(422.62 230.40) rotate(-58.9)" x="0" y="2.8" font-size="8.00" text-anchor="end">mitochondrial intermembrane space</text>
<text transform="translate(439.03 230.40) rotate(-58.9)" x="0" y="2.8" font-size="8.00" text-anchor="end">U4/U6 x U5 tri-snRNP complex</text>
<text transform="translate(455.44 230.40) rotate(-58.9)" x="0" y="2.8" font-size="8.00" text-anchor="end">spliceosomal tri-snRNP complex</text>
<text transform="translate(471.85 230.40) rotate(-58.9)" x="0" y="2.8" font-size="8.00" text-anchor="end">structural constituent of ribosome</text>
<text transform="translate(488.26 230.40) rotate(-58.9)" x="0" y="2.8" font-size="8.00" text-anchor="end">cofactor binding</text>
<g transform="translate(504.67 230.40) rotate(-58.9)"><text x="-1.6" y="-1.9" font-size="7.75" text-anchor="end">oxidoreductase activity, acting on paired donors, with incorporation or reduction of molecular</text><text x="0" y="6.9" font-size="7.75" text-anchor="end">oxygen, reduced flavin or flavoprotein as one donor, and incorporation of one atom of oxygen</text></g>
<text transform="translate(521.08 230.40) rotate(-58.9)" x="0" y="2.8" font-size="8.00" text-anchor="end">monooxygenase activity</text>
<text transform="translate(537.49 230.40) rotate(-58.9)" x="0" y="2.8" font-size="8.00" text-anchor="end">carbohydrate binding</text>
</g>
</svg></body></html>
